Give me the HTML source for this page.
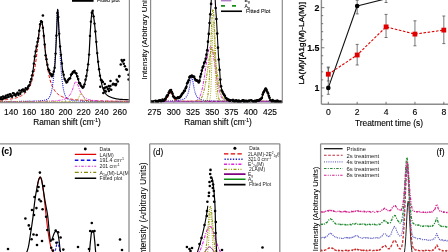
<!DOCTYPE html>
<html><head><meta charset="utf-8"><style>
html,body{margin:0;padding:0;background:#fff;width:448px;height:252px;overflow:hidden}
svg{display:block;font-family:"Liberation Sans",Arial,sans-serif}
</style></head><body>
<svg width="448" height="252" viewBox="0 0 448 252">
<rect width="448" height="252" fill="#fff"/>
<defs>
<clipPath id="ca"><rect x="0" y="0" width="129.4" height="102.5"/></clipPath>
<clipPath id="cb"><rect x="150.6" y="0" width="131.7" height="103"/></clipPath>
<clipPath id="cc"><rect x="0" y="144" width="129" height="108"/></clipPath>
<clipPath id="cd"><rect x="149.7" y="144" width="130.1" height="108"/></clipPath>
<clipPath id="ccl"><rect x="0" y="144" width="128.4" height="108"/></clipPath>
<clipPath id="cdl"><rect x="149.7" y="144" width="129.5" height="108"/></clipPath>
<clipPath id="cf"><rect x="320.6" y="144" width="128" height="108"/></clipPath>
</defs>
<g clip-path="url(#ca)">
<polyline points="0.00,100.16 0.40,100.13 0.80,100.11 1.20,100.08 1.60,100.05 2.00,100.02 2.40,99.98 2.80,99.95 3.20,99.92 3.60,99.88 4.00,99.85 4.40,99.81 4.80,99.77 5.20,99.73 5.60,99.69 6.00,99.65 6.40,99.60 6.80,99.56 7.20,99.51 7.60,99.46 8.00,99.41 8.40,99.36 8.80,99.31 9.20,99.25 9.60,99.19 10.00,99.13 10.40,99.07 10.80,99.01 11.20,98.94 11.60,98.87 12.00,98.80 12.40,98.72 12.80,98.65 13.20,98.56 13.60,98.48 14.00,98.39 14.40,98.30 14.80,98.20 15.20,98.10 15.60,98.00 16.00,97.89 16.40,97.78 16.80,97.66 17.20,97.53 17.60,97.40 18.00,97.27 18.40,97.12 18.80,96.97 19.20,96.81 19.60,96.65 20.00,96.47 20.40,96.29 20.80,96.09 21.20,95.89 21.60,95.67 22.00,95.45 22.40,95.21 22.80,94.95 23.20,94.68 23.60,94.39 24.00,94.09 24.40,93.77 24.80,93.43 25.20,93.06 25.60,92.67 26.00,92.26 26.40,91.81 26.80,91.34 27.20,90.83 27.60,90.29 28.00,89.71 28.40,89.08 28.80,88.40 29.20,87.68 29.60,86.89 30.00,86.05 30.40,85.13 30.80,84.14 31.20,83.07 31.60,81.91 32.00,80.64 32.40,79.27 32.80,77.78 33.20,76.16 33.60,74.39 34.00,72.47 34.40,70.38 34.80,68.11 35.20,65.66 35.60,63.00 36.00,60.15 36.40,57.09 36.80,53.83 37.20,50.40 37.60,46.82 38.00,43.15 38.40,39.44 38.80,35.79 39.20,32.30 39.60,29.09 40.00,26.31 40.40,24.07 40.80,22.51 41.20,21.70 41.60,21.71 42.00,22.61 42.40,24.35 42.80,26.82 43.20,29.87 43.60,33.36 44.00,37.12 44.40,41.01 44.80,44.92 45.20,48.76 45.60,52.46 46.00,55.97 46.40,59.27 46.80,62.35 47.20,65.20 47.60,67.82 48.00,70.24 48.40,72.45 48.80,74.48 49.20,76.33 49.60,78.03 50.00,79.58 50.40,81.00 50.80,82.30 51.20,83.50 51.60,84.59 52.00,85.60 52.40,86.53 52.80,87.38 53.20,88.17 53.60,88.90 54.00,89.57 54.40,90.20 54.80,90.78 55.20,91.32 55.60,91.82 56.00,92.29 56.40,92.72 56.80,93.13 57.20,93.51 57.60,93.87 58.00,94.20 58.40,94.51 58.80,94.81 59.20,95.09 59.60,95.35 60.00,95.59 60.40,95.82 60.80,96.04 61.20,96.25 61.60,96.45 62.00,96.63 62.40,96.81 62.80,96.98 63.20,97.14 63.60,97.29 64.00,97.43 64.40,97.57 64.80,97.70 65.20,97.82 65.60,97.94 66.00,98.05 66.40,98.16 66.80,98.26 67.20,98.36 67.60,98.45 68.00,98.55 68.40,98.63 68.80,98.71 69.20,98.79 69.60,98.87 70.00,98.94 70.40,99.01 70.80,99.08 71.20,99.15 71.60,99.21 72.00,99.27 72.40,99.33 72.80,99.38 73.20,99.44 73.60,99.49 74.00,99.54 74.40,99.59 74.80,99.64 75.20,99.68 75.60,99.72 76.00,99.77 76.40,99.81 76.80,99.85 77.20,99.88 77.60,99.92 78.00,99.96 78.40,99.99 78.80,100.03 79.20,100.06 79.60,100.09 80.00,100.12 80.40,100.15 80.80,100.18 81.20,100.21 81.60,100.23 82.00,100.26 82.40,100.29 82.80,100.31 83.20,100.33 83.60,100.36 84.00,100.38 84.40,100.40 84.80,100.42 85.20,100.45 85.60,100.47 86.00,100.49 86.40,100.51 86.80,100.52 87.20,100.54 87.60,100.56 88.00,100.58 88.40,100.60 88.80,100.61 89.20,100.63 89.60,100.64 90.00,100.66 90.40,100.67 90.80,100.69 91.20,100.70 91.60,100.72 92.00,100.73 92.40,100.75 92.80,100.76 93.20,100.77 93.60,100.78 94.00,100.80 94.40,100.81 94.80,100.82 95.20,100.83 95.60,100.84 96.00,100.85 96.40,100.86 96.80,100.87 97.20,100.88 97.60,100.89 98.00,100.90 98.40,100.91 98.80,100.92 99.20,100.93 99.60,100.94 100.00,100.95 100.40,100.96 100.80,100.97 101.20,100.98 101.60,100.98 102.00,100.99 102.40,101.00 102.80,101.01 103.20,101.02 103.60,101.02 104.00,101.03 104.40,101.04 104.80,101.04 105.20,101.05 105.60,101.06 106.00,101.07 106.40,101.07 106.80,101.08 107.20,101.08 107.60,101.09 108.00,101.10 108.40,101.10 108.80,101.11 109.20,101.11 109.60,101.12 110.00,101.13 110.40,101.13 110.80,101.14 111.20,101.14 111.60,101.15 112.00,101.15 112.40,101.16 112.80,101.16 113.20,101.17 113.60,101.17 114.00,101.18 114.40,101.18 114.80,101.19 115.20,101.19 115.60,101.19 116.00,101.20 116.40,101.20 116.80,101.21 117.20,101.21 117.60,101.21 118.00,101.22 118.40,101.22 118.80,101.23 119.20,101.23 119.60,101.23 120.00,101.24 120.40,101.24 120.80,101.25 121.20,101.25 121.60,101.25 122.00,101.26 122.40,101.26 122.80,101.26 123.20,101.27 123.60,101.27 124.00,101.27 124.40,101.28 124.80,101.28 125.20,101.28 125.60,101.28 126.00,101.29 126.40,101.29 126.80,101.29 127.20,101.30 127.60,101.30 128.00,101.30 128.40,101.30 128.80,101.31 129.20,101.31 129.60,101.31 130.00,101.31" fill="none" stroke="#e00000" stroke-width="1.0" stroke-dasharray="3.2 1.8" stroke-linejoin="round" />
<polyline points="0.00,101.52 0.40,101.52 0.80,101.52 1.20,101.52 1.60,101.52 2.00,101.52 2.40,101.52 2.80,101.51 3.20,101.51 3.60,101.51 4.00,101.51 4.40,101.51 4.80,101.51 5.20,101.51 5.60,101.51 6.00,101.50 6.40,101.50 6.80,101.50 7.20,101.50 7.60,101.50 8.00,101.50 8.40,101.49 8.80,101.49 9.20,101.49 9.60,101.49 10.00,101.49 10.40,101.49 10.80,101.48 11.20,101.48 11.60,101.48 12.00,101.48 12.40,101.47 12.80,101.47 13.20,101.47 13.60,101.47 14.00,101.47 14.40,101.46 14.80,101.46 15.20,101.46 15.60,101.45 16.00,101.45 16.40,101.45 16.80,101.45 17.20,101.44 17.60,101.44 18.00,101.44 18.40,101.43 18.80,101.43 19.20,101.43 19.60,101.42 20.00,101.42 20.40,101.42 20.80,101.41 21.20,101.41 21.60,101.40 22.00,101.40 22.40,101.39 22.80,101.39 23.20,101.38 23.60,101.38 24.00,101.37 24.40,101.37 24.80,101.36 25.20,101.36 25.60,101.35 26.00,101.34 26.40,101.34 26.80,101.33 27.20,101.32 27.60,101.32 28.00,101.31 28.40,101.30 28.80,101.29 29.20,101.28 29.60,101.28 30.00,101.27 30.40,101.26 30.80,101.25 31.20,101.24 31.60,101.22 32.00,101.21 32.40,101.20 32.80,101.19 33.20,101.17 33.60,101.16 34.00,101.14 34.40,101.13 34.80,101.11 35.20,101.10 35.60,101.08 36.00,101.06 36.40,101.04 36.80,101.02 37.20,100.99 37.60,100.97 38.00,100.94 38.40,100.92 38.80,100.89 39.20,100.86 39.60,100.82 40.00,100.79 40.40,100.75 40.80,100.71 41.20,100.67 41.60,100.62 42.00,100.57 42.40,100.52 42.80,100.46 43.20,100.40 43.60,100.33 44.00,100.25 44.40,100.17 44.80,100.08 45.20,99.98 45.60,99.87 46.00,99.74 46.40,99.59 46.80,99.42 47.20,99.22 47.60,98.98 48.00,98.69 48.40,98.35 48.80,97.93 49.20,97.41 49.60,96.78 50.00,96.00 50.40,95.06 50.80,93.91 51.20,92.52 51.60,90.86 52.00,88.89 52.40,86.57 52.80,83.86 53.20,80.71 53.60,77.08 54.00,72.89 54.40,68.08 54.80,62.54 55.20,56.13 55.60,48.72 56.00,40.24 56.40,30.91 56.80,21.52 57.20,13.72 57.60,9.77 58.00,11.14 58.40,17.28 58.80,26.14 59.20,35.66 59.60,44.61 60.00,52.55 60.40,59.45 60.80,65.41 61.20,70.57 61.60,75.06 62.00,78.96 62.40,82.34 62.80,85.27 63.20,87.78 63.60,89.92 64.00,91.73 64.40,93.25 64.80,94.51 65.20,95.55 65.60,96.41 66.00,97.11 66.40,97.68 66.80,98.15 67.20,98.53 67.60,98.84 68.00,99.10 68.40,99.32 68.80,99.51 69.20,99.67 69.60,99.80 70.00,99.92 70.40,100.03 70.80,100.13 71.20,100.21 71.60,100.29 72.00,100.36 72.40,100.43 72.80,100.49 73.20,100.55 73.60,100.60 74.00,100.64 74.40,100.69 74.80,100.73 75.20,100.77 75.60,100.81 76.00,100.84 76.40,100.87 76.80,100.90 77.20,100.93 77.60,100.96 78.00,100.98 78.40,101.00 78.80,101.03 79.20,101.05 79.60,101.07 80.00,101.09 80.40,101.10 80.80,101.12 81.20,101.14 81.60,101.15 82.00,101.17 82.40,101.18 82.80,101.19 83.20,101.21 83.60,101.22 84.00,101.23 84.40,101.24 84.80,101.25 85.20,101.26 85.60,101.27 86.00,101.28 86.40,101.29 86.80,101.30 87.20,101.31 87.60,101.31 88.00,101.32 88.40,101.33 88.80,101.33 89.20,101.34 89.60,101.35 90.00,101.35 90.40,101.36 90.80,101.37 91.20,101.37 91.60,101.38 92.00,101.38 92.40,101.39 92.80,101.39 93.20,101.40 93.60,101.40 94.00,101.41 94.40,101.41 94.80,101.41 95.20,101.42 95.60,101.42 96.00,101.42 96.40,101.43 96.80,101.43 97.20,101.44 97.60,101.44 98.00,101.44 98.40,101.44 98.80,101.45 99.20,101.45 99.60,101.45 100.00,101.46 100.40,101.46 100.80,101.46 101.20,101.46 101.60,101.47 102.00,101.47 102.40,101.47 102.80,101.47 103.20,101.48 103.60,101.48 104.00,101.48 104.40,101.48 104.80,101.48 105.20,101.49 105.60,101.49 106.00,101.49 106.40,101.49 106.80,101.49 107.20,101.50 107.60,101.50 108.00,101.50 108.40,101.50 108.80,101.50 109.20,101.50 109.60,101.50 110.00,101.51 110.40,101.51 110.80,101.51 111.20,101.51 111.60,101.51 112.00,101.51 112.40,101.51 112.80,101.52 113.20,101.52 113.60,101.52 114.00,101.52 114.40,101.52 114.80,101.52 115.20,101.52 115.60,101.52 116.00,101.52 116.40,101.53 116.80,101.53 117.20,101.53 117.60,101.53 118.00,101.53 118.40,101.53 118.80,101.53 119.20,101.53 119.60,101.53 120.00,101.53 120.40,101.53 120.80,101.54 121.20,101.54 121.60,101.54 122.00,101.54 122.40,101.54 122.80,101.54 123.20,101.54 123.60,101.54 124.00,101.54 124.40,101.54 124.80,101.54 125.20,101.54 125.60,101.54 126.00,101.54 126.40,101.55 126.80,101.55 127.20,101.55 127.60,101.55 128.00,101.55 128.40,101.55 128.80,101.55 129.20,101.55 129.60,101.55 130.00,101.55" fill="none" stroke="#1a1ad0" stroke-width="1.1" stroke-dasharray="1 1.1" stroke-linejoin="round" />
<polyline points="0.00,101.54 0.40,101.54 0.80,101.53 1.20,101.53 1.60,101.53 2.00,101.53 2.40,101.53 2.80,101.53 3.20,101.53 3.60,101.53 4.00,101.53 4.40,101.53 4.80,101.53 5.20,101.53 5.60,101.53 6.00,101.52 6.40,101.52 6.80,101.52 7.20,101.52 7.60,101.52 8.00,101.52 8.40,101.52 8.80,101.52 9.20,101.52 9.60,101.52 10.00,101.52 10.40,101.51 10.80,101.51 11.20,101.51 11.60,101.51 12.00,101.51 12.40,101.51 12.80,101.51 13.20,101.51 13.60,101.51 14.00,101.50 14.40,101.50 14.80,101.50 15.20,101.50 15.60,101.50 16.00,101.50 16.40,101.50 16.80,101.50 17.20,101.49 17.60,101.49 18.00,101.49 18.40,101.49 18.80,101.49 19.20,101.49 19.60,101.48 20.00,101.48 20.40,101.48 20.80,101.48 21.20,101.48 21.60,101.48 22.00,101.47 22.40,101.47 22.80,101.47 23.20,101.47 23.60,101.47 24.00,101.46 24.40,101.46 24.80,101.46 25.20,101.46 25.60,101.46 26.00,101.45 26.40,101.45 26.80,101.45 27.20,101.45 27.60,101.44 28.00,101.44 28.40,101.44 28.80,101.44 29.20,101.43 29.60,101.43 30.00,101.43 30.40,101.42 30.80,101.42 31.20,101.42 31.60,101.41 32.00,101.41 32.40,101.41 32.80,101.40 33.20,101.40 33.60,101.40 34.00,101.39 34.40,101.39 34.80,101.38 35.20,101.38 35.60,101.38 36.00,101.37 36.40,101.37 36.80,101.36 37.20,101.36 37.60,101.35 38.00,101.35 38.40,101.34 38.80,101.34 39.20,101.33 39.60,101.32 40.00,101.32 40.40,101.31 40.80,101.31 41.20,101.30 41.60,101.29 42.00,101.29 42.40,101.28 42.80,101.27 43.20,101.26 43.60,101.25 44.00,101.25 44.40,101.24 44.80,101.23 45.20,101.22 45.60,101.21 46.00,101.20 46.40,101.19 46.80,101.18 47.20,101.16 47.60,101.15 48.00,101.14 48.40,101.13 48.80,101.11 49.20,101.10 49.60,101.08 50.00,101.07 50.40,101.05 50.80,101.03 51.20,101.02 51.60,101.00 52.00,100.98 52.40,100.96 52.80,100.94 53.20,100.91 53.60,100.89 54.00,100.86 54.40,100.84 54.80,100.81 55.20,100.78 55.60,100.75 56.00,100.72 56.40,100.68 56.80,100.64 57.20,100.61 57.60,100.56 58.00,100.52 58.40,100.47 58.80,100.42 59.20,100.37 59.60,100.31 60.00,100.25 60.40,100.19 60.80,100.12 61.20,100.04 61.60,99.96 62.00,99.88 62.40,99.78 62.80,99.68 63.20,99.57 63.60,99.45 64.00,99.32 64.40,99.18 64.80,99.03 65.20,98.86 65.60,98.68 66.00,98.48 66.40,98.26 66.80,98.01 67.20,97.75 67.60,97.45 68.00,97.12 68.40,96.75 68.80,96.34 69.20,95.89 69.60,95.38 70.00,94.81 70.40,94.18 70.80,93.48 71.20,92.70 71.60,91.83 72.00,90.88 72.40,89.84 72.80,88.73 73.20,87.56 73.60,86.35 74.00,85.16 74.40,84.03 74.80,83.05 75.20,82.27 75.60,81.77 76.00,81.60 76.40,81.77 76.80,82.27 77.20,83.05 77.60,84.03 78.00,85.16 78.40,86.35 78.80,87.56 79.20,88.73 79.60,89.84 80.00,90.88 80.40,91.83 80.80,92.70 81.20,93.48 81.60,94.18 82.00,94.81 82.40,95.38 82.80,95.89 83.20,96.34 83.60,96.75 84.00,97.12 84.40,97.45 84.80,97.75 85.20,98.01 85.60,98.26 86.00,98.48 86.40,98.68 86.80,98.86 87.20,99.03 87.60,99.18 88.00,99.32 88.40,99.45 88.80,99.57 89.20,99.68 89.60,99.78 90.00,99.88 90.40,99.96 90.80,100.04 91.20,100.12 91.60,100.19 92.00,100.25 92.40,100.31 92.80,100.37 93.20,100.42 93.60,100.47 94.00,100.52 94.40,100.56 94.80,100.61 95.20,100.64 95.60,100.68 96.00,100.72 96.40,100.75 96.80,100.78 97.20,100.81 97.60,100.84 98.00,100.86 98.40,100.89 98.80,100.91 99.20,100.94 99.60,100.96 100.00,100.98 100.40,101.00 100.80,101.02 101.20,101.03 101.60,101.05 102.00,101.07 102.40,101.08 102.80,101.10 103.20,101.11 103.60,101.13 104.00,101.14 104.40,101.15 104.80,101.16 105.20,101.18 105.60,101.19 106.00,101.20 106.40,101.21 106.80,101.22 107.20,101.23 107.60,101.24 108.00,101.25 108.40,101.25 108.80,101.26 109.20,101.27 109.60,101.28 110.00,101.29 110.40,101.29 110.80,101.30 111.20,101.31 111.60,101.31 112.00,101.32 112.40,101.32 112.80,101.33 113.20,101.34 113.60,101.34 114.00,101.35 114.40,101.35 114.80,101.36 115.20,101.36 115.60,101.37 116.00,101.37 116.40,101.38 116.80,101.38 117.20,101.38 117.60,101.39 118.00,101.39 118.40,101.40 118.80,101.40 119.20,101.40 119.60,101.41 120.00,101.41 120.40,101.41 120.80,101.42 121.20,101.42 121.60,101.42 122.00,101.43 122.40,101.43 122.80,101.43 123.20,101.44 123.60,101.44 124.00,101.44 124.40,101.44 124.80,101.45 125.20,101.45 125.60,101.45 126.00,101.45 126.40,101.46 126.80,101.46 127.20,101.46 127.60,101.46 128.00,101.46 128.40,101.47 128.80,101.47 129.20,101.47 129.60,101.47 130.00,101.47" fill="none" stroke="#e020e0" stroke-width="1.0" stroke-dasharray="3 1.2 1 1.2" stroke-linejoin="round" />
<polyline points="0.00,101.60 0.40,101.60 0.80,101.60 1.20,101.60 1.60,101.60 2.00,101.60 2.40,101.60 2.80,101.60 3.20,101.60 3.60,101.60 4.00,101.60 4.40,101.60 4.80,101.60 5.20,101.60 5.60,101.60 6.00,101.60 6.40,101.60 6.80,101.60 7.20,101.60 7.60,101.60 8.00,101.60 8.40,101.60 8.80,101.60 9.20,101.60 9.60,101.60 10.00,101.60 10.40,101.60 10.80,101.60 11.20,101.60 11.60,101.60 12.00,101.60 12.40,101.60 12.80,101.60 13.20,101.60 13.60,101.60 14.00,101.60 14.40,101.60 14.80,101.60 15.20,101.60 15.60,101.60 16.00,101.60 16.40,101.60 16.80,101.60 17.20,101.60 17.60,101.60 18.00,101.60 18.40,101.60 18.80,101.60 19.20,101.60 19.60,101.60 20.00,101.60 20.40,101.60 20.80,101.60 21.20,101.60 21.60,101.60 22.00,101.60 22.40,101.60 22.80,101.60 23.20,101.60 23.60,101.60 24.00,101.60 24.40,101.60 24.80,101.60 25.20,101.60 25.60,101.60 26.00,101.60 26.40,101.60 26.80,101.60 27.20,101.60 27.60,101.60 28.00,101.60 28.40,101.60 28.80,101.60 29.20,101.60 29.60,101.60 30.00,101.60 30.40,101.60 30.80,101.60 31.20,101.60 31.60,101.60 32.00,101.60 32.40,101.60 32.80,101.60 33.20,101.60 33.60,101.60 34.00,101.60 34.40,101.60 34.80,101.60 35.20,101.60 35.60,101.60 36.00,101.60 36.40,101.60 36.80,101.60 37.20,101.60 37.60,101.60 38.00,101.60 38.40,101.60 38.80,101.60 39.20,101.60 39.60,101.60 40.00,101.60 40.40,101.60 40.80,101.60 41.20,101.60 41.60,101.60 42.00,101.60 42.40,101.60 42.80,101.60 43.20,101.60 43.60,101.60 44.00,101.60 44.40,101.60 44.80,101.60 45.20,101.60 45.60,101.60 46.00,101.60 46.40,101.60 46.80,101.60 47.20,101.60 47.60,101.60 48.00,101.60 48.40,101.60 48.80,101.60 49.20,101.60 49.60,101.60 50.00,101.60 50.40,101.60 50.80,101.60 51.20,101.60 51.60,101.60 52.00,101.60 52.40,101.60 52.80,101.60 53.20,101.60 53.60,101.60 54.00,101.60 54.40,101.60 54.80,101.60 55.20,101.60 55.60,101.60 56.00,101.60 56.40,101.60 56.80,101.60 57.20,101.60 57.60,101.60 58.00,101.60 58.40,101.60 58.80,101.60 59.20,101.60 59.60,101.60 60.00,101.60 60.40,101.60 60.80,101.60 61.20,101.60 61.60,101.60 62.00,101.60 62.40,101.60 62.80,101.60 63.20,101.60 63.60,101.60 64.00,101.60 64.40,101.60 64.80,101.60 65.20,101.60 65.60,101.60 66.00,101.60 66.40,101.60 66.80,101.60 67.20,101.60 67.60,101.60 68.00,101.60 68.40,101.60 68.80,101.60 69.20,101.60 69.60,101.60 70.00,101.60 70.40,101.60 70.80,101.60 71.20,101.60 71.60,101.60 72.00,101.60 72.40,101.60 72.80,101.60 73.20,101.59 73.60,101.58 74.00,101.57 74.40,101.54 74.80,101.50 75.20,101.43 75.60,101.32 76.00,101.16 76.40,100.93 76.80,100.61 77.20,100.19 77.60,99.66 78.00,99.00 78.40,98.24 78.80,97.41 79.20,96.53 79.60,95.66 80.00,94.88 80.40,94.24 80.80,93.80 81.20,93.61 81.60,93.67 82.00,93.99 82.40,94.54 82.80,95.26 83.20,96.09 83.60,96.97 84.00,97.83 84.40,98.64 84.80,99.34 85.20,99.94 85.60,100.42 86.00,100.78 86.40,101.06 86.80,101.25 87.20,101.38 87.60,101.47 88.00,101.52 88.40,101.56 88.80,101.58 89.20,101.59 89.60,101.59 90.00,101.60 90.40,101.60 90.80,101.60 91.20,101.60 91.60,101.60 92.00,101.60 92.40,101.60 92.80,101.60 93.20,101.60 93.60,101.60 94.00,101.60 94.40,101.60 94.80,101.60 95.20,101.60 95.60,101.60 96.00,101.60 96.40,101.60 96.80,101.60 97.20,101.60 97.60,101.60 98.00,101.60 98.40,101.60 98.80,101.60 99.20,101.60 99.60,101.60 100.00,101.60 100.40,101.60 100.80,101.60 101.20,101.60 101.60,101.60 102.00,101.60 102.40,101.60 102.80,101.60 103.20,101.60 103.60,101.60 104.00,101.60 104.40,101.60 104.80,101.60 105.20,101.60 105.60,101.60 106.00,101.60 106.40,101.60 106.80,101.60 107.20,101.60 107.60,101.60 108.00,101.60 108.40,101.60 108.80,101.60 109.20,101.60 109.60,101.60 110.00,101.60 110.40,101.60 110.80,101.60 111.20,101.60 111.60,101.60 112.00,101.60 112.40,101.60 112.80,101.60 113.20,101.60 113.60,101.60 114.00,101.60 114.40,101.60 114.80,101.60 115.20,101.60 115.60,101.60 116.00,101.60 116.40,101.60 116.80,101.60 117.20,101.60 117.60,101.60 118.00,101.60 118.40,101.60 118.80,101.60 119.20,101.60 119.60,101.60 120.00,101.60 120.40,101.60 120.80,101.60 121.20,101.60 121.60,101.60 122.00,101.60 122.40,101.60 122.80,101.60 123.20,101.60 123.60,101.60 124.00,101.60 124.40,101.60 124.80,101.60 125.20,101.60 125.60,101.60 126.00,101.60 126.40,101.60 126.80,101.60 127.20,101.60 127.60,101.60 128.00,101.60 128.40,101.60 128.80,101.60 129.20,101.60 129.60,101.60 130.00,101.60" fill="none" stroke="#9a9a10" stroke-width="1.0" stroke-dasharray="2.6 1 1 1 1 1" stroke-linejoin="round" />
<circle cx="0.30" cy="98.19" r="1.2" fill="#000"/>
<circle cx="1.21" cy="97.22" r="1.2" fill="#000"/>
<circle cx="2.11" cy="99.25" r="1.2" fill="#000"/>
<circle cx="3.02" cy="96.45" r="1.2" fill="#000"/>
<circle cx="3.92" cy="98.31" r="1.2" fill="#000"/>
<circle cx="4.83" cy="97.31" r="1.2" fill="#000"/>
<circle cx="5.74" cy="95.68" r="1.2" fill="#000"/>
<circle cx="6.64" cy="97.42" r="1.2" fill="#000"/>
<circle cx="7.55" cy="95.03" r="1.2" fill="#000"/>
<circle cx="8.45" cy="96.50" r="1.2" fill="#000"/>
<circle cx="9.36" cy="94.55" r="1.2" fill="#000"/>
<circle cx="10.27" cy="94.31" r="1.2" fill="#000"/>
<circle cx="11.17" cy="95.44" r="1.2" fill="#000"/>
<circle cx="12.08" cy="96.85" r="1.2" fill="#000"/>
<circle cx="12.98" cy="93.30" r="1.2" fill="#000"/>
<circle cx="13.89" cy="93.35" r="1.2" fill="#000"/>
<circle cx="14.80" cy="94.77" r="1.2" fill="#000"/>
<circle cx="15.70" cy="95.85" r="1.2" fill="#000"/>
<circle cx="16.61" cy="93.85" r="1.2" fill="#000"/>
<circle cx="17.51" cy="92.71" r="1.2" fill="#000"/>
<circle cx="18.42" cy="94.98" r="1.2" fill="#000"/>
<circle cx="19.33" cy="90.48" r="1.2" fill="#000"/>
<circle cx="20.23" cy="93.75" r="1.2" fill="#000"/>
<circle cx="21.14" cy="90.86" r="1.2" fill="#000"/>
<circle cx="22.04" cy="89.88" r="1.2" fill="#000"/>
<circle cx="22.95" cy="89.40" r="1.2" fill="#000"/>
<circle cx="23.86" cy="89.86" r="1.2" fill="#000"/>
<circle cx="24.76" cy="91.65" r="1.2" fill="#000"/>
<circle cx="25.67" cy="88.21" r="1.2" fill="#000"/>
<circle cx="26.57" cy="89.15" r="1.2" fill="#000"/>
<circle cx="27.48" cy="88.29" r="1.2" fill="#000"/>
<circle cx="28.39" cy="86.32" r="1.2" fill="#000"/>
<circle cx="29.29" cy="85.16" r="1.2" fill="#000"/>
<circle cx="30.20" cy="81.96" r="1.2" fill="#000"/>
<circle cx="31.10" cy="79.11" r="1.2" fill="#000"/>
<circle cx="32.01" cy="75.34" r="1.2" fill="#000"/>
<circle cx="32.92" cy="71.42" r="1.2" fill="#000"/>
<circle cx="33.82" cy="63.67" r="1.2" fill="#000"/>
<circle cx="34.73" cy="56.41" r="1.2" fill="#000"/>
<circle cx="35.63" cy="51.56" r="1.2" fill="#000"/>
<circle cx="36.54" cy="46.38" r="1.2" fill="#000"/>
<circle cx="37.45" cy="41.98" r="1.2" fill="#000"/>
<circle cx="38.35" cy="38.27" r="1.2" fill="#000"/>
<circle cx="39.26" cy="30.76" r="1.2" fill="#000"/>
<circle cx="40.16" cy="24.20" r="1.2" fill="#000"/>
<circle cx="41.07" cy="21.18" r="1.2" fill="#000"/>
<circle cx="41.98" cy="21.93" r="1.2" fill="#000"/>
<circle cx="42.88" cy="27.86" r="1.2" fill="#000"/>
<circle cx="43.79" cy="35.77" r="1.2" fill="#000"/>
<circle cx="44.69" cy="44.49" r="1.2" fill="#000"/>
<circle cx="45.60" cy="55.28" r="1.2" fill="#000"/>
<circle cx="46.51" cy="59.32" r="1.2" fill="#000"/>
<circle cx="47.41" cy="64.77" r="1.2" fill="#000"/>
<circle cx="48.32" cy="69.13" r="1.2" fill="#000"/>
<circle cx="49.22" cy="70.49" r="1.2" fill="#000"/>
<circle cx="50.13" cy="73.45" r="1.2" fill="#000"/>
<circle cx="51.04" cy="74.28" r="1.2" fill="#000"/>
<circle cx="51.94" cy="76.29" r="1.2" fill="#000"/>
<circle cx="52.85" cy="74.63" r="1.2" fill="#000"/>
<circle cx="53.75" cy="71.47" r="1.2" fill="#000"/>
<circle cx="54.66" cy="67.77" r="1.2" fill="#000"/>
<circle cx="55.57" cy="53.58" r="1.2" fill="#000"/>
<circle cx="56.47" cy="35.60" r="1.2" fill="#000"/>
<circle cx="57.38" cy="12.89" r="1.2" fill="#000"/>
<circle cx="58.28" cy="17.00" r="1.2" fill="#000"/>
<circle cx="59.19" cy="33.64" r="1.2" fill="#000"/>
<circle cx="60.10" cy="46.54" r="1.2" fill="#000"/>
<circle cx="61.00" cy="54.86" r="1.2" fill="#000"/>
<circle cx="61.91" cy="63.38" r="1.2" fill="#000"/>
<circle cx="62.81" cy="71.66" r="1.2" fill="#000"/>
<circle cx="63.72" cy="74.70" r="1.2" fill="#000"/>
<circle cx="64.63" cy="79.04" r="1.2" fill="#000"/>
<circle cx="65.53" cy="80.67" r="1.2" fill="#000"/>
<circle cx="66.44" cy="82.46" r="1.2" fill="#000"/>
<circle cx="67.34" cy="81.81" r="1.2" fill="#000"/>
<circle cx="68.25" cy="79.68" r="1.2" fill="#000"/>
<circle cx="69.16" cy="78.79" r="1.2" fill="#000"/>
<circle cx="70.06" cy="78.19" r="1.2" fill="#000"/>
<circle cx="70.97" cy="74.71" r="1.2" fill="#000"/>
<circle cx="71.87" cy="73.90" r="1.2" fill="#000"/>
<circle cx="72.78" cy="72.20" r="1.2" fill="#000"/>
<circle cx="73.69" cy="71.48" r="1.2" fill="#000"/>
<circle cx="74.59" cy="70.99" r="1.2" fill="#000"/>
<circle cx="75.50" cy="72.98" r="1.2" fill="#000"/>
<circle cx="76.40" cy="73.36" r="1.2" fill="#000"/>
<circle cx="77.31" cy="76.30" r="1.2" fill="#000"/>
<circle cx="78.22" cy="79.06" r="1.2" fill="#000"/>
<circle cx="79.12" cy="82.88" r="1.2" fill="#000"/>
<circle cx="80.03" cy="83.26" r="1.2" fill="#000"/>
<circle cx="80.93" cy="85.40" r="1.2" fill="#000"/>
<circle cx="81.84" cy="86.59" r="1.2" fill="#000"/>
<circle cx="82.75" cy="87.82" r="1.2" fill="#000"/>
<circle cx="83.65" cy="86.74" r="1.2" fill="#000"/>
<circle cx="84.56" cy="84.36" r="1.2" fill="#000"/>
<circle cx="85.46" cy="79.80" r="1.2" fill="#000"/>
<circle cx="86.37" cy="76.00" r="1.2" fill="#000"/>
<circle cx="87.28" cy="70.11" r="1.2" fill="#000"/>
<circle cx="88.18" cy="64.37" r="1.2" fill="#000"/>
<circle cx="89.09" cy="54.61" r="1.2" fill="#000"/>
<circle cx="89.99" cy="35.91" r="1.2" fill="#000"/>
<circle cx="90.90" cy="21.63" r="1.2" fill="#000"/>
<circle cx="91.81" cy="12.70" r="1.2" fill="#000"/>
<circle cx="92.71" cy="10.67" r="1.2" fill="#000"/>
<circle cx="93.62" cy="16.37" r="1.2" fill="#000"/>
<circle cx="94.52" cy="23.59" r="1.2" fill="#000"/>
<circle cx="95.43" cy="31.51" r="1.2" fill="#000"/>
<circle cx="96.34" cy="41.87" r="1.2" fill="#000"/>
<circle cx="97.24" cy="53.09" r="1.2" fill="#000"/>
<circle cx="98.15" cy="61.67" r="1.2" fill="#000"/>
<circle cx="99.05" cy="69.22" r="1.2" fill="#000"/>
<circle cx="99.96" cy="75.66" r="1.2" fill="#000"/>
<circle cx="100.87" cy="79.81" r="1.2" fill="#000"/>
<circle cx="42.90" cy="15.50" r="1.3" fill="#000"/>
<circle cx="101.82" cy="80.52" r="1.25" fill="#000"/>
<circle cx="102.88" cy="82.04" r="1.25" fill="#000"/>
<circle cx="104.00" cy="88.23" r="1.25" fill="#000"/>
<circle cx="104.87" cy="90.81" r="1.25" fill="#000"/>
<circle cx="105.29" cy="87.56" r="1.25" fill="#000"/>
<circle cx="105.90" cy="91.59" r="1.25" fill="#000"/>
<circle cx="106.76" cy="87.10" r="1.25" fill="#000"/>
<circle cx="107.81" cy="89.01" r="1.25" fill="#000"/>
<circle cx="108.84" cy="86.03" r="1.25" fill="#000"/>
<circle cx="109.40" cy="88.47" r="1.25" fill="#000"/>
<circle cx="110.40" cy="85.90" r="1.25" fill="#000"/>
<circle cx="111.23" cy="89.65" r="1.25" fill="#000"/>
<circle cx="112.71" cy="84.45" r="1.25" fill="#000"/>
<circle cx="113.25" cy="83.83" r="1.25" fill="#000"/>
<circle cx="114.26" cy="84.34" r="1.25" fill="#000"/>
<circle cx="115.65" cy="85.17" r="1.25" fill="#000"/>
<circle cx="116.17" cy="83.93" r="1.25" fill="#000"/>
<circle cx="116.69" cy="79.75" r="1.25" fill="#000"/>
<circle cx="117.84" cy="81.46" r="1.25" fill="#000"/>
<circle cx="119.23" cy="76.51" r="1.25" fill="#000"/>
<circle cx="119.32" cy="75.98" r="1.25" fill="#000"/>
<circle cx="120.73" cy="64.45" r="1.25" fill="#000"/>
<circle cx="121.64" cy="59.92" r="1.25" fill="#000"/>
<circle cx="122.53" cy="61.61" r="1.25" fill="#000"/>
<circle cx="123.76" cy="63.86" r="1.25" fill="#000"/>
<circle cx="124.06" cy="59.91" r="1.25" fill="#000"/>
<circle cx="124.87" cy="66.20" r="1.25" fill="#000"/>
<circle cx="126.13" cy="69.23" r="1.25" fill="#000"/>
<circle cx="126.93" cy="69.78" r="1.25" fill="#000"/>
<circle cx="128.61" cy="79.53" r="1.25" fill="#000"/>
<circle cx="128.55" cy="74.85" r="1.25" fill="#000"/>
<circle cx="103.32" cy="93.06" r="1.25" fill="#000"/>
<circle cx="104.73" cy="84.08" r="1.25" fill="#000"/>
<circle cx="108.86" cy="90.93" r="1.25" fill="#000"/>
<circle cx="110.53" cy="81.03" r="1.25" fill="#000"/>
<circle cx="100.26" cy="86.85" r="1.25" fill="#000"/>
<polyline points="0.00,99.60 0.30,99.54 0.60,99.47 0.90,99.41 1.20,99.34 1.50,99.28 1.80,99.21 2.10,99.14 2.40,99.07 2.70,99.00 3.00,98.93 3.30,98.86 3.60,98.79 3.90,98.71 4.20,98.64 4.50,98.56 4.80,98.48 5.10,98.40 5.40,98.32 5.70,98.23 6.00,98.14 6.30,98.05 6.60,97.96 6.90,97.87 7.20,97.77 7.50,97.67 7.80,97.57 8.10,97.47 8.40,97.37 8.70,97.27 9.00,97.16 9.30,97.05 9.60,96.95 9.90,96.84 10.20,96.73 10.50,96.61 10.80,96.49 11.10,96.37 11.40,96.24 11.70,96.11 12.00,95.98 12.30,95.85 12.60,95.72 12.90,95.59 13.20,95.45 13.50,95.32 13.80,95.19 14.10,95.06 14.40,94.93 14.70,94.80 15.00,94.68 15.30,94.56 15.60,94.44 15.90,94.33 16.20,94.22 16.50,94.11 16.80,94.00 17.10,93.89 17.40,93.78 17.70,93.67 18.00,93.56 18.30,93.45 18.60,93.34 18.90,93.23 19.20,93.11 19.50,93.00 19.80,92.88 20.10,92.76 20.40,92.64 20.70,92.53 21.00,92.41 21.30,92.30 21.60,92.19 21.90,92.08 22.20,91.97 22.50,91.86 22.80,91.74 23.10,91.61 23.40,91.48 23.70,91.35 24.00,91.21 24.30,91.05 24.60,90.89 24.90,90.72 25.20,90.53 25.50,90.33 25.80,90.10 26.10,89.83 26.40,89.53 26.70,89.20 27.00,88.84 27.30,88.46 27.60,88.06 27.90,87.64 28.20,87.21 28.50,86.74 28.80,86.25 29.10,85.71 29.40,85.13 29.70,84.49 30.00,83.80 30.30,83.04 30.60,82.21 30.90,81.23 31.20,80.09 31.50,78.81 31.80,77.40 32.10,75.88 32.40,74.27 32.70,72.58 33.00,70.73 33.30,68.51 33.60,66.04 33.90,63.48 34.20,60.98 34.50,58.69 34.80,56.69 35.10,54.80 35.40,53.00 35.70,51.28 36.00,49.62 36.30,48.02 36.60,46.50 36.90,45.13 37.20,43.83 37.50,42.51 37.80,41.10 38.10,39.50 38.40,37.52 38.70,35.17 39.00,32.68 39.30,30.26 39.60,28.14 39.90,26.49 40.20,24.92 40.50,23.41 40.80,22.13 41.10,21.23 41.40,20.90 41.70,21.27 42.00,22.27 42.30,23.73 42.60,25.48 42.90,27.37 43.20,29.48 43.50,32.36 43.80,35.66 44.10,38.97 44.40,42.08 44.70,45.37 45.00,48.66 45.30,51.75 45.60,54.43 45.90,56.63 46.20,58.64 46.50,60.50 46.80,62.22 47.10,63.79 47.40,65.21 47.70,66.50 48.00,67.67 48.30,68.75 48.60,69.76 48.90,70.70 49.20,71.56 49.50,72.35 49.80,73.06 50.10,73.71 50.40,74.38 50.70,75.04 51.00,75.62 51.30,76.06 51.60,76.28 51.90,76.22 52.20,75.84 52.50,75.21 52.80,74.43 53.10,73.57 53.40,72.71 53.70,71.78 54.00,70.67 54.30,69.30 54.60,67.57 54.90,65.04 55.20,60.82 55.50,55.55 55.80,50.00 56.10,43.94 56.40,37.10 56.70,30.20 57.00,23.00 57.30,14.80 57.60,9.44 57.90,10.19 58.20,15.28 58.50,22.06 58.80,28.00 59.10,32.67 59.40,37.18 59.70,41.36 60.00,45.00 60.30,48.01 60.60,50.64 60.90,53.19 61.20,55.98 61.50,59.17 61.80,62.54 62.10,65.81 62.40,68.69 62.70,70.90 63.00,72.61 63.30,74.16 63.60,75.55 63.90,76.75 64.20,77.77 64.50,78.58 64.80,79.22 65.10,79.83 65.40,80.39 65.70,80.88 66.00,81.26 66.30,81.51 66.60,81.60 66.90,81.56 67.20,81.43 67.50,81.23 67.80,80.97 68.10,80.66 68.40,80.32 68.70,79.95 69.00,79.57 69.30,79.18 69.60,78.80 69.90,78.36 70.20,77.82 70.50,77.20 70.80,76.54 71.10,75.86 71.40,75.21 71.70,74.60 72.00,74.09 72.30,73.69 72.60,73.43 72.90,73.21 73.20,73.00 73.50,72.81 73.80,72.64 74.10,72.50 74.40,72.39 74.70,72.32 75.00,72.30 75.30,72.43 75.60,72.78 75.90,73.33 76.20,74.02 76.50,74.82 76.80,75.68 77.10,76.58 77.40,77.46 77.70,78.29 78.00,79.05 78.30,79.85 78.60,80.73 78.90,81.63 79.20,82.52 79.50,83.35 79.80,84.09 80.10,84.69 80.40,85.13 80.70,85.52 81.00,85.90 81.30,86.25 81.60,86.56 81.90,86.82 82.20,87.02 82.50,87.15 82.80,87.20 83.10,87.07 83.40,86.72 83.70,86.17 84.00,85.45 84.30,84.60 84.60,83.65 84.90,82.63 85.20,81.57 85.50,80.50 85.80,79.32 86.10,77.93 86.40,76.34 86.70,74.57 87.00,72.64 87.30,70.58 87.60,68.40 87.90,66.12 88.20,63.59 88.50,60.71 88.80,57.43 89.10,53.64 89.40,48.67 89.70,42.87 90.00,36.94 90.30,31.55 90.60,27.03 90.90,22.70 91.20,18.89 91.50,16.00 91.80,13.69 92.10,11.79 92.40,11.00 92.70,11.57 93.00,12.99 93.30,14.80 93.60,16.59 93.90,18.61 94.20,20.91 94.50,23.46 94.80,26.19 95.10,29.03 95.40,32.05 95.70,35.47 96.00,39.15 96.30,42.92 96.60,46.59 96.90,50.00 97.20,53.16 97.50,56.18 97.80,59.07 98.10,61.85 98.40,64.52 98.70,66.90 99.00,69.00 99.30,70.95 99.60,72.80 99.90,74.53 100.20,76.19 100.50,77.77 100.80,79.31 101.10,80.84 101.40,82.35 101.70,83.80 102.00,85.15 102.30,86.36 102.60,87.40 102.90,88.27 103.20,89.08 103.50,89.85 103.80,90.57 104.10,91.23 104.40,91.84 104.70,92.40 105.00,92.89 105.30,93.33 105.60,93.70 105.90,94.03 106.20,94.34 106.50,94.62 106.80,94.89 107.10,95.15 107.40,95.38 107.70,95.60 108.00,95.81 108.30,96.00 108.60,96.18 108.90,96.35 109.20,96.50 109.50,96.65 109.80,96.79 110.10,96.93 110.40,97.06 110.70,97.18 111.00,97.30 111.30,97.42 111.60,97.53 111.90,97.64 112.20,97.74 112.50,97.84 112.80,97.93 113.10,98.02 113.40,98.11 113.70,98.19 114.00,98.27 114.30,98.34 114.60,98.41 114.90,98.48 115.20,98.54 115.50,98.61 115.80,98.67 116.10,98.73 116.40,98.79 116.70,98.85 117.00,98.90 117.30,98.96 117.60,99.01 117.90,99.05 118.20,99.10 118.50,99.14 118.80,99.18 119.10,99.22 119.40,99.25 119.70,99.28 120.00,99.30 120.30,99.32 120.60,99.34 120.90,99.36 121.20,99.38 121.50,99.40 121.80,99.42 122.10,99.44 122.40,99.46 122.70,99.48 123.00,99.50 123.30,99.52 123.60,99.53 123.90,99.55 124.20,99.57 124.50,99.58 124.80,99.60 125.10,99.62 125.40,99.63 125.70,99.64 126.00,99.66 126.30,99.67 126.60,99.68 126.90,99.70 127.20,99.71 127.50,99.72 127.80,99.73 128.10,99.74 128.40,99.75 128.70,99.75 129.00,99.76 129.30,99.77 129.60,99.78 129.90,99.78" fill="none" stroke="#000" stroke-width="1.2" stroke-linejoin="round" />
</g>
<line x1="129.40" y1="0.00" x2="129.40" y2="102.60" stroke="#8c8c8c" stroke-width="1.2"/>
<line x1="0.00" y1="102.60" x2="129.40" y2="102.60" stroke="#8c8c8c" stroke-width="1.2"/>
<line x1="11.10" y1="102.20" x2="11.10" y2="100.20" stroke="#8c8c8c" stroke-width="0.8"/>
<text x="11.1" y="114.6" font-size="8.4" text-anchor="middle" font-weight="normal" fill="#000" stroke="#000" stroke-width="0.12">140</text>
<line x1="29.22" y1="102.20" x2="29.22" y2="100.20" stroke="#8c8c8c" stroke-width="0.8"/>
<text x="29.22" y="114.6" font-size="8.4" text-anchor="middle" font-weight="normal" fill="#000" stroke="#000" stroke-width="0.12">160</text>
<line x1="47.34" y1="102.20" x2="47.34" y2="100.20" stroke="#8c8c8c" stroke-width="0.8"/>
<text x="47.34" y="114.6" font-size="8.4" text-anchor="middle" font-weight="normal" fill="#000" stroke="#000" stroke-width="0.12">180</text>
<line x1="65.46" y1="102.20" x2="65.46" y2="100.20" stroke="#8c8c8c" stroke-width="0.8"/>
<text x="65.46" y="114.6" font-size="8.4" text-anchor="middle" font-weight="normal" fill="#000" stroke="#000" stroke-width="0.12">200</text>
<line x1="83.58" y1="102.20" x2="83.58" y2="100.20" stroke="#8c8c8c" stroke-width="0.8"/>
<text x="83.58" y="114.6" font-size="8.4" text-anchor="middle" font-weight="normal" fill="#000" stroke="#000" stroke-width="0.12">220</text>
<line x1="101.70" y1="102.20" x2="101.70" y2="100.20" stroke="#8c8c8c" stroke-width="0.8"/>
<text x="101.7" y="114.6" font-size="8.4" text-anchor="middle" font-weight="normal" fill="#000" stroke="#000" stroke-width="0.12">240</text>
<line x1="119.82" y1="102.20" x2="119.82" y2="100.20" stroke="#8c8c8c" stroke-width="0.8"/>
<text x="119.82" y="114.6" font-size="8.4" text-anchor="middle" font-weight="normal" fill="#000" stroke="#000" stroke-width="0.12">260</text>
<text x="67" y="125" font-size="8.3" text-anchor="middle" font-weight="normal" fill="#000" stroke="#000" stroke-width="0.12">Raman shift (cm<tspan font-size="5" dy="-3">-1</tspan><tspan dy="3">)</tspan></text>
<line x1="72.00" y1="0.60" x2="93.60" y2="0.60" stroke="#000" stroke-width="2.4"/>
<text x="97" y="2.2" font-size="5.2" text-anchor="start" font-weight="normal" fill="#000" stroke="#000" stroke-width="0.04">Fitted plot</text>
<g clip-path="url(#cb)">
<polyline points="151.00,101.30 151.40,101.30 151.80,101.30 152.20,101.30 152.60,101.30 153.00,101.30 153.40,101.30 153.80,101.30 154.20,101.30 154.60,101.30 155.00,101.30 155.40,101.30 155.80,101.30 156.20,101.30 156.60,101.30 157.00,101.30 157.40,101.30 157.80,101.30 158.20,101.30 158.60,101.30 159.00,101.30 159.40,101.30 159.80,101.30 160.20,101.30 160.60,101.30 161.00,101.29 161.40,101.29 161.80,101.28 162.20,101.27 162.60,101.25 163.00,101.22 163.40,101.16 163.80,101.09 164.20,100.98 164.60,100.82 165.00,100.60 165.40,100.31 165.80,99.94 166.20,99.47 166.60,98.91 167.00,98.25 167.40,97.51 167.80,96.71 168.20,95.88 168.60,95.06 169.00,94.29 169.40,93.64 169.80,93.13 170.20,92.81 170.60,92.70 171.00,92.81 171.40,93.13 171.80,93.64 172.20,94.29 172.60,95.06 173.00,95.88 173.40,96.71 173.80,97.51 174.20,98.25 174.60,98.91 175.00,99.47 175.40,99.94 175.80,100.31 176.20,100.60 176.60,100.82 177.00,100.98 177.40,101.09 177.80,101.16 178.20,101.22 178.60,101.25 179.00,101.27 179.40,101.28 179.80,101.29 180.20,101.29 180.60,101.30 181.00,101.30 181.40,101.30 181.80,101.30 182.20,101.30 182.60,101.30 183.00,101.30 183.40,101.30 183.80,101.30 184.20,101.30 184.60,101.30 185.00,101.30 185.40,101.30 185.80,101.30 186.20,101.30 186.60,101.30 187.00,101.30 187.40,101.30 187.80,101.30 188.20,101.30 188.60,101.30 189.00,101.30 189.40,101.30 189.80,101.30 190.20,101.30 190.60,101.30 191.00,101.30 191.40,101.30 191.80,101.30 192.20,101.30 192.60,101.30 193.00,101.30 193.40,101.30 193.80,101.30 194.20,101.30 194.60,101.30 195.00,101.30 195.40,101.30 195.80,101.30 196.20,101.30 196.60,101.30 197.00,101.30 197.40,101.30 197.80,101.30 198.20,101.30 198.60,101.30 199.00,101.30 199.40,101.30 199.80,101.30 200.20,101.30 200.60,101.30 201.00,101.30 201.40,101.30 201.80,101.30 202.20,101.30 202.60,101.30 203.00,101.30 203.40,101.30 203.80,101.30 204.20,101.30 204.60,101.30 205.00,101.30 205.40,101.30 205.80,101.30 206.20,101.30 206.60,101.30 207.00,101.30 207.40,101.30 207.80,101.30 208.20,101.30 208.60,101.30 209.00,101.30 209.40,101.30 209.80,101.30 210.20,101.30 210.60,101.30 211.00,101.30 211.40,101.30 211.80,101.30 212.20,101.30 212.60,101.30 213.00,101.30 213.40,101.30 213.80,101.30 214.20,101.30 214.60,101.30 215.00,101.30 215.40,101.30 215.80,101.30 216.20,101.30 216.60,101.30 217.00,101.30 217.40,101.30 217.80,101.30 218.20,101.30 218.60,101.30 219.00,101.30 219.40,101.30 219.80,101.30 220.20,101.30 220.60,101.30 221.00,101.30 221.40,101.30 221.80,101.30 222.20,101.30 222.60,101.30 223.00,101.30 223.40,101.30 223.80,101.30 224.20,101.30 224.60,101.30 225.00,101.30 225.40,101.30 225.80,101.30 226.20,101.30 226.60,101.30 227.00,101.30 227.40,101.30 227.80,101.30 228.20,101.30 228.60,101.30 229.00,101.30 229.40,101.30 229.80,101.30 230.20,101.30 230.60,101.30 231.00,101.30 231.40,101.30 231.80,101.30 232.20,101.30 232.60,101.30 233.00,101.30 233.40,101.30 233.80,101.30 234.20,101.30 234.60,101.30 235.00,101.30 235.40,101.30 235.80,101.30 236.20,101.30 236.60,101.30 237.00,101.30 237.40,101.30 237.80,101.30 238.20,101.30 238.60,101.30 239.00,101.30 239.40,101.30 239.80,101.30 240.20,101.30 240.60,101.30 241.00,101.30 241.40,101.30 241.80,101.30 242.20,101.30 242.60,101.30 243.00,101.30 243.40,101.30 243.80,101.30 244.20,101.30 244.60,101.30 245.00,101.30 245.40,101.30 245.80,101.30 246.20,101.30 246.60,101.30 247.00,101.30 247.40,101.30 247.80,101.30 248.20,101.30 248.60,101.30 249.00,101.30 249.40,101.30 249.80,101.30 250.20,101.30 250.60,101.30 251.00,101.30 251.40,101.30 251.80,101.30 252.20,101.30 252.60,101.30 253.00,101.30 253.40,101.30 253.80,101.30 254.20,101.30 254.60,101.30 255.00,101.30 255.40,101.30 255.80,101.30 256.20,101.30 256.60,101.30 257.00,101.30 257.40,101.30 257.80,101.30 258.20,101.30 258.60,101.30 259.00,101.30 259.40,101.30 259.80,101.30 260.20,101.30 260.60,101.30 261.00,101.30 261.40,101.30 261.80,101.30 262.20,101.30 262.60,101.30 263.00,101.30 263.40,101.30 263.80,101.30 264.20,101.30 264.60,101.30 265.00,101.30 265.40,101.30 265.80,101.30 266.20,101.30 266.60,101.30 267.00,101.30 267.40,101.30 267.80,101.30 268.20,101.30 268.60,101.30 269.00,101.30 269.40,101.30 269.80,101.30 270.20,101.30 270.60,101.30 271.00,101.30 271.40,101.30 271.80,101.30 272.20,101.30 272.60,101.30 273.00,101.30 273.40,101.30 273.80,101.30 274.20,101.30 274.60,101.30 275.00,101.30 275.40,101.30 275.80,101.30 276.20,101.30 276.60,101.30 277.00,101.30 277.40,101.30 277.80,101.30 278.20,101.30 278.60,101.30 279.00,101.30 279.40,101.30 279.80,101.30 280.20,101.30 280.60,101.30 281.00,101.30 281.40,101.30 281.80,101.30" fill="none" stroke="#e00000" stroke-width="1.3" stroke-dasharray="3 1.4" stroke-linejoin="round" />
<polyline points="151.00,101.20 151.40,101.20 151.80,101.20 152.20,101.20 152.60,101.19 153.00,101.19 153.40,101.19 153.80,101.19 154.20,101.19 154.60,101.18 155.00,101.18 155.40,101.18 155.80,101.17 156.20,101.17 156.60,101.17 157.00,101.17 157.40,101.16 157.80,101.16 158.20,101.16 158.60,101.15 159.00,101.15 159.40,101.15 159.80,101.14 160.20,101.14 160.60,101.13 161.00,101.13 161.40,101.12 161.80,101.12 162.20,101.12 162.60,101.11 163.00,101.10 163.40,101.10 163.80,101.09 164.20,101.09 164.60,101.08 165.00,101.07 165.40,101.07 165.80,101.06 166.20,101.05 166.60,101.05 167.00,101.04 167.40,101.03 167.80,101.02 168.20,101.01 168.60,101.00 169.00,100.99 169.40,100.98 169.80,100.97 170.20,100.95 170.60,100.94 171.00,100.93 171.40,100.91 171.80,100.90 172.20,100.88 172.60,100.86 173.00,100.84 173.40,100.83 173.80,100.80 174.20,100.78 174.60,100.76 175.00,100.73 175.40,100.70 175.80,100.67 176.20,100.64 176.60,100.61 177.00,100.57 177.40,100.53 177.80,100.49 178.20,100.44 178.60,100.39 179.00,100.33 179.40,100.27 179.80,100.21 180.20,100.13 180.60,100.05 181.00,99.96 181.40,99.86 181.80,99.75 182.20,99.63 182.60,99.49 183.00,99.33 183.40,99.16 183.80,98.95 184.20,98.73 184.60,98.46 185.00,98.16 185.40,97.81 185.80,97.40 186.20,96.92 186.60,96.35 187.00,95.68 187.40,94.87 187.80,93.92 188.20,92.77 188.60,91.39 189.00,89.75 189.40,87.84 189.80,85.65 190.20,83.29 190.60,80.94 191.00,78.92 191.40,77.62 191.80,77.34 192.20,78.16 192.60,79.87 193.00,82.10 193.40,84.49 193.80,86.78 194.20,88.83 194.60,90.61 195.00,92.11 195.40,93.37 195.80,94.42 196.20,95.29 196.60,96.03 197.00,96.64 197.40,97.17 197.80,97.61 198.20,97.99 198.60,98.32 199.00,98.60 199.40,98.84 199.80,99.06 200.20,99.25 200.60,99.41 201.00,99.56 201.40,99.69 201.80,99.81 202.20,99.91 202.60,100.01 203.00,100.09 203.40,100.17 203.80,100.24 204.20,100.30 204.60,100.36 205.00,100.42 205.40,100.47 205.80,100.51 206.20,100.55 206.60,100.59 207.00,100.63 207.40,100.66 207.80,100.69 208.20,100.72 208.60,100.75 209.00,100.77 209.40,100.79 209.80,100.81 210.20,100.84 210.60,100.85 211.00,100.87 211.40,100.89 211.80,100.91 212.20,100.92 212.60,100.93 213.00,100.95 213.40,100.96 213.80,100.97 214.20,100.98 214.60,100.99 215.00,101.00 215.40,101.01 215.80,101.02 216.20,101.03 216.60,101.04 217.00,101.05 217.40,101.06 217.80,101.06 218.20,101.07 218.60,101.08 219.00,101.08 219.40,101.09 219.80,101.10 220.20,101.10 220.60,101.11 221.00,101.11 221.40,101.12 221.80,101.12 222.20,101.13 222.60,101.13 223.00,101.14 223.40,101.14 223.80,101.14 224.20,101.15 224.60,101.15 225.00,101.15 225.40,101.16 225.80,101.16 226.20,101.16 226.60,101.17 227.00,101.17 227.40,101.17 227.80,101.18 228.20,101.18 228.60,101.18 229.00,101.18 229.40,101.19 229.80,101.19 230.20,101.19 230.60,101.19 231.00,101.20 231.40,101.20 231.80,101.20 232.20,101.20 232.60,101.20 233.00,101.21 233.40,101.21 233.80,101.21 234.20,101.21 234.60,101.21 235.00,101.21 235.40,101.22 235.80,101.22 236.20,101.22 236.60,101.22 237.00,101.22 237.40,101.22 237.80,101.22 238.20,101.23 238.60,101.23 239.00,101.23 239.40,101.23 239.80,101.23 240.20,101.23 240.60,101.23 241.00,101.23 241.40,101.23 241.80,101.24 242.20,101.24 242.60,101.24 243.00,101.24 243.40,101.24 243.80,101.24 244.20,101.24 244.60,101.24 245.00,101.24 245.40,101.24 245.80,101.24 246.20,101.25 246.60,101.25 247.00,101.25 247.40,101.25 247.80,101.25 248.20,101.25 248.60,101.25 249.00,101.25 249.40,101.25 249.80,101.25 250.20,101.25 250.60,101.25 251.00,101.25 251.40,101.25 251.80,101.26 252.20,101.26 252.60,101.26 253.00,101.26 253.40,101.26 253.80,101.26 254.20,101.26 254.60,101.26 255.00,101.26 255.40,101.26 255.80,101.26 256.20,101.26 256.60,101.26 257.00,101.26 257.40,101.26 257.80,101.26 258.20,101.26 258.60,101.26 259.00,101.26 259.40,101.26 259.80,101.27 260.20,101.27 260.60,101.27 261.00,101.27 261.40,101.27 261.80,101.27 262.20,101.27 262.60,101.27 263.00,101.27 263.40,101.27 263.80,101.27 264.20,101.27 264.60,101.27 265.00,101.27 265.40,101.27 265.80,101.27 266.20,101.27 266.60,101.27 267.00,101.27 267.40,101.27 267.80,101.27 268.20,101.27 268.60,101.27 269.00,101.27 269.40,101.27 269.80,101.27 270.20,101.27 270.60,101.27 271.00,101.27 271.40,101.27 271.80,101.27 272.20,101.27 272.60,101.28 273.00,101.28 273.40,101.28 273.80,101.28 274.20,101.28 274.60,101.28 275.00,101.28 275.40,101.28 275.80,101.28 276.20,101.28 276.60,101.28 277.00,101.28 277.40,101.28 277.80,101.28 278.20,101.28 278.60,101.28 279.00,101.28 279.40,101.28 279.80,101.28 280.20,101.28 280.60,101.28 281.00,101.28 281.40,101.28 281.80,101.28" fill="none" stroke="#1a1ad0" stroke-width="1.1" stroke-dasharray="1 1.1" stroke-linejoin="round" />
<polyline points="151.00,101.30 151.40,101.30 151.80,101.30 152.20,101.30 152.60,101.30 153.00,101.30 153.40,101.30 153.80,101.30 154.20,101.30 154.60,101.30 155.00,101.30 155.40,101.30 155.80,101.30 156.20,101.30 156.60,101.30 157.00,101.30 157.40,101.30 157.80,101.30 158.20,101.30 158.60,101.30 159.00,101.30 159.40,101.30 159.80,101.30 160.20,101.30 160.60,101.30 161.00,101.30 161.40,101.30 161.80,101.30 162.20,101.30 162.60,101.30 163.00,101.30 163.40,101.30 163.80,101.30 164.20,101.30 164.60,101.30 165.00,101.30 165.40,101.30 165.80,101.30 166.20,101.30 166.60,101.30 167.00,101.30 167.40,101.30 167.80,101.30 168.20,101.30 168.60,101.30 169.00,101.30 169.40,101.30 169.80,101.30 170.20,101.30 170.60,101.30 171.00,101.30 171.40,101.30 171.80,101.30 172.20,101.30 172.60,101.30 173.00,101.30 173.40,101.30 173.80,101.30 174.20,101.30 174.60,101.30 175.00,101.30 175.40,101.30 175.80,101.30 176.20,101.30 176.60,101.30 177.00,101.30 177.40,101.30 177.80,101.30 178.20,101.30 178.60,101.30 179.00,101.30 179.40,101.30 179.80,101.30 180.20,101.30 180.60,101.30 181.00,101.30 181.40,101.30 181.80,101.30 182.20,101.30 182.60,101.30 183.00,101.30 183.40,101.30 183.80,101.30 184.20,101.30 184.60,101.30 185.00,101.30 185.40,101.30 185.80,101.30 186.20,101.30 186.60,101.30 187.00,101.30 187.40,101.30 187.80,101.30 188.20,101.30 188.60,101.30 189.00,101.30 189.40,101.30 189.80,101.29 190.20,101.29 190.60,101.29 191.00,101.29 191.40,101.28 191.80,101.27 192.20,101.26 192.60,101.25 193.00,101.23 193.40,101.20 193.80,101.17 194.20,101.13 194.60,101.07 195.00,101.00 195.40,100.91 195.80,100.79 196.20,100.65 196.60,100.47 197.00,100.25 197.40,99.97 197.80,99.64 198.20,99.24 198.60,98.75 199.00,98.18 199.40,97.51 199.80,96.72 200.20,95.80 200.60,94.74 201.00,93.54 201.40,92.18 201.80,90.66 202.20,88.97 202.60,87.10 203.00,85.07 203.40,82.88 203.80,80.54 204.20,78.06 204.60,75.46 205.00,72.77 205.40,70.02 205.80,67.25 206.20,64.48 206.60,61.76 207.00,59.14 207.40,56.65 207.80,54.35 208.20,52.27 208.60,50.44 209.00,48.92 209.40,47.73 209.80,46.88 210.20,46.41 210.60,46.31 211.00,46.60 211.40,47.26 211.80,48.28 212.20,49.64 212.60,51.32 213.00,53.28 213.40,55.48 213.80,57.88 214.20,60.44 214.60,63.11 215.00,65.86 215.40,68.64 215.80,71.40 216.20,74.13 216.60,76.77 217.00,79.31 217.40,81.73 217.80,84.00 218.20,86.11 218.60,88.06 219.00,89.83 219.40,91.44 219.80,92.88 220.20,94.16 220.60,95.29 221.00,96.27 221.40,97.13 221.80,97.86 222.20,98.48 222.60,99.01 223.00,99.45 223.40,99.81 223.80,100.12 224.20,100.36 224.60,100.56 225.00,100.73 225.40,100.86 225.80,100.96 226.20,101.04 226.60,101.10 227.00,101.15 227.40,101.19 227.80,101.22 228.20,101.24 228.60,101.26 229.00,101.27 229.40,101.28 229.80,101.28 230.20,101.29 230.60,101.29 231.00,101.29 231.40,101.30 231.80,101.30 232.20,101.30 232.60,101.30 233.00,101.30 233.40,101.30 233.80,101.30 234.20,101.30 234.60,101.30 235.00,101.30 235.40,101.30 235.80,101.30 236.20,101.30 236.60,101.30 237.00,101.30 237.40,101.30 237.80,101.30 238.20,101.30 238.60,101.30 239.00,101.30 239.40,101.30 239.80,101.30 240.20,101.30 240.60,101.30 241.00,101.30 241.40,101.30 241.80,101.30 242.20,101.30 242.60,101.30 243.00,101.30 243.40,101.30 243.80,101.30 244.20,101.30 244.60,101.30 245.00,101.30 245.40,101.30 245.80,101.30 246.20,101.30 246.60,101.30 247.00,101.30 247.40,101.30 247.80,101.30 248.20,101.30 248.60,101.30 249.00,101.30 249.40,101.30 249.80,101.30 250.20,101.30 250.60,101.30 251.00,101.30 251.40,101.30 251.80,101.30 252.20,101.30 252.60,101.30 253.00,101.30 253.40,101.30 253.80,101.30 254.20,101.30 254.60,101.30 255.00,101.30 255.40,101.30 255.80,101.30 256.20,101.30 256.60,101.30 257.00,101.30 257.40,101.30 257.80,101.30 258.20,101.30 258.60,101.30 259.00,101.30 259.40,101.30 259.80,101.30 260.20,101.30 260.60,101.30 261.00,101.30 261.40,101.30 261.80,101.30 262.20,101.30 262.60,101.30 263.00,101.30 263.40,101.30 263.80,101.30 264.20,101.30 264.60,101.30 265.00,101.30 265.40,101.30 265.80,101.30 266.20,101.30 266.60,101.30 267.00,101.30 267.40,101.30 267.80,101.30 268.20,101.30 268.60,101.30 269.00,101.30 269.40,101.30 269.80,101.30 270.20,101.30 270.60,101.30 271.00,101.30 271.40,101.30 271.80,101.30 272.20,101.30 272.60,101.30 273.00,101.30 273.40,101.30 273.80,101.30 274.20,101.30 274.60,101.30 275.00,101.30 275.40,101.30 275.80,101.30 276.20,101.30 276.60,101.30 277.00,101.30 277.40,101.30 277.80,101.30 278.20,101.30 278.60,101.30 279.00,101.30 279.40,101.30 279.80,101.30 280.20,101.30 280.60,101.30 281.00,101.30 281.40,101.30 281.80,101.30" fill="none" stroke="#e020e0" stroke-width="1.0" stroke-dasharray="3 1.2 1 1.2" stroke-linejoin="round" />
<polyline points="151.00,101.30 151.20,101.30 151.40,101.30 151.60,101.30 151.80,101.30 152.00,101.30 152.20,101.30 152.40,101.30 152.60,101.30 152.80,101.30 153.00,101.30 153.20,101.30 153.40,101.30 153.60,101.30 153.80,101.30 154.00,101.30 154.20,101.30 154.40,101.30 154.60,101.30 154.80,101.30 155.00,101.30 155.20,101.30 155.40,101.30 155.60,101.30 155.80,101.30 156.00,101.30 156.20,101.30 156.40,101.30 156.60,101.30 156.80,101.30 157.00,101.30 157.20,101.30 157.40,101.30 157.60,101.30 157.80,101.30 158.00,101.30 158.20,101.30 158.40,101.30 158.60,101.30 158.80,101.30 159.00,101.30 159.20,101.30 159.40,101.30 159.60,101.30 159.80,101.30 160.00,101.30 160.20,101.30 160.40,101.30 160.60,101.30 160.80,101.30 161.00,101.30 161.20,101.30 161.40,101.30 161.60,101.30 161.80,101.30 162.00,101.30 162.20,101.30 162.40,101.30 162.60,101.30 162.80,101.30 163.00,101.30 163.20,101.30 163.40,101.30 163.60,101.30 163.80,101.30 164.00,101.30 164.20,101.30 164.40,101.30 164.60,101.30 164.80,101.30 165.00,101.30 165.20,101.30 165.40,101.30 165.60,101.30 165.80,101.30 166.00,101.30 166.20,101.30 166.40,101.30 166.60,101.30 166.80,101.30 167.00,101.30 167.20,101.30 167.40,101.30 167.60,101.30 167.80,101.30 168.00,101.30 168.20,101.30 168.40,101.30 168.60,101.30 168.80,101.30 169.00,101.30 169.20,101.30 169.40,101.30 169.60,101.30 169.80,101.30 170.00,101.30 170.20,101.30 170.40,101.30 170.60,101.30 170.80,101.30 171.00,101.30 171.20,101.30 171.40,101.30 171.60,101.30 171.80,101.30 172.00,101.30 172.20,101.30 172.40,101.30 172.60,101.30 172.80,101.30 173.00,101.30 173.20,101.30 173.40,101.30 173.60,101.30 173.80,101.30 174.00,101.30 174.20,101.30 174.40,101.30 174.60,101.30 174.80,101.30 175.00,101.30 175.20,101.30 175.40,101.30 175.60,101.30 175.80,101.30 176.00,101.30 176.20,101.30 176.40,101.30 176.60,101.30 176.80,101.30 177.00,101.30 177.20,101.30 177.40,101.30 177.60,101.30 177.80,101.30 178.00,101.30 178.20,101.30 178.40,101.30 178.60,101.30 178.80,101.30 179.00,101.30 179.20,101.30 179.40,101.30 179.60,101.30 179.80,101.30 180.00,101.30 180.20,101.30 180.40,101.30 180.60,101.30 180.80,101.30 181.00,101.30 181.20,101.30 181.40,101.30 181.60,101.30 181.80,101.30 182.00,101.30 182.20,101.30 182.40,101.30 182.60,101.30 182.80,101.30 183.00,101.30 183.20,101.30 183.40,101.30 183.60,101.30 183.80,101.30 184.00,101.30 184.20,101.30 184.40,101.30 184.60,101.30 184.80,101.30 185.00,101.30 185.20,101.30 185.40,101.30 185.60,101.30 185.80,101.30 186.00,101.30 186.20,101.30 186.40,101.30 186.60,101.30 186.80,101.30 187.00,101.30 187.20,101.30 187.40,101.30 187.60,101.30 187.80,101.30 188.00,101.30 188.20,101.30 188.40,101.30 188.60,101.30 188.80,101.30 189.00,101.30 189.20,101.30 189.40,101.30 189.60,101.30 189.80,101.30 190.00,101.30 190.20,101.30 190.40,101.30 190.60,101.30 190.80,101.30 191.00,101.30 191.20,101.30 191.40,101.30 191.60,101.30 191.80,101.30 192.00,101.30 192.20,101.30 192.40,101.30 192.60,101.30 192.80,101.30 193.00,101.30 193.20,101.30 193.40,101.30 193.60,101.30 193.80,101.30 194.00,101.30 194.20,101.30 194.40,101.30 194.60,101.30 194.80,101.30 195.00,101.30 195.20,101.30 195.40,101.30 195.60,101.30 195.80,101.30 196.00,101.30 196.20,101.30 196.40,101.30 196.60,101.30 196.80,101.30 197.00,101.30 197.20,101.30 197.40,101.30 197.60,101.30 197.80,101.30 198.00,101.30 198.20,101.30 198.40,101.30 198.60,101.30 198.80,101.30 199.00,101.30 199.20,101.30 199.40,101.30 199.60,101.30 199.80,101.30 200.00,101.30 200.20,101.30 200.40,101.30 200.60,101.30 200.80,101.30 201.00,101.30 201.20,101.30 201.40,101.30 201.60,101.30 201.80,101.30 202.00,101.30 202.20,101.30 202.40,101.30 202.60,101.30 202.80,101.30 203.00,101.30 203.20,101.30 203.40,101.29 203.60,101.29 203.80,101.29 204.00,101.28 204.20,101.27 204.40,101.26 204.60,101.24 204.80,101.21 205.00,101.18 205.20,101.13 205.40,101.06 205.60,100.98 205.80,100.87 206.00,100.72 206.20,100.53 206.40,100.28 206.60,99.96 206.80,99.57 207.00,99.07 207.20,98.45 207.40,97.70 207.60,96.78 207.80,95.67 208.00,94.35 208.20,92.79 208.40,90.96 208.60,88.85 208.80,86.43 209.00,83.68 209.20,80.60 209.40,77.18 209.60,73.43 209.80,69.36 210.00,64.99 210.20,60.37 210.40,55.54 210.60,50.56 210.80,45.50 211.00,40.44 211.20,35.47 211.40,30.68 211.60,26.16 211.80,22.02 212.00,18.33 212.20,15.19 212.40,12.66 212.60,10.81 212.80,9.68 213.00,9.30 213.20,9.68 213.40,10.81 213.60,12.66 213.80,15.19 214.00,18.33 214.20,22.02 214.40,26.16 214.60,30.68 214.80,35.47 215.00,40.44 215.20,45.50 215.40,50.56 215.60,55.54 215.80,60.37 216.00,64.99 216.20,69.36 216.40,73.43 216.60,77.18 216.80,80.60 217.00,83.68 217.20,86.43 217.40,88.85 217.60,90.96 217.80,92.79 218.00,94.35 218.20,95.67 218.40,96.78 218.60,97.70 218.80,98.45 219.00,99.07 219.20,99.57 219.40,99.96 219.60,100.28 219.80,100.53 220.00,100.72 220.20,100.87 220.40,100.98 220.60,101.06 220.80,101.13 221.00,101.18 221.20,101.21 221.40,101.24 221.60,101.26 221.80,101.27 222.00,101.28 222.20,101.29 222.40,101.29 222.60,101.29 222.80,101.30 223.00,101.30 223.20,101.30 223.40,101.30 223.60,101.30 223.80,101.30 224.00,101.30 224.20,101.30 224.40,101.30 224.60,101.30 224.80,101.30 225.00,101.30 225.20,101.30 225.40,101.30 225.60,101.30 225.80,101.30 226.00,101.30 226.20,101.30 226.40,101.30 226.60,101.30 226.80,101.30 227.00,101.30 227.20,101.30 227.40,101.30 227.60,101.30 227.80,101.30 228.00,101.30 228.20,101.30 228.40,101.30 228.60,101.30 228.80,101.30 229.00,101.30 229.20,101.30 229.40,101.30 229.60,101.30 229.80,101.30 230.00,101.30 230.20,101.30 230.40,101.30 230.60,101.30 230.80,101.30 231.00,101.30 231.20,101.30 231.40,101.30 231.60,101.30 231.80,101.30 232.00,101.30 232.20,101.30 232.40,101.30 232.60,101.30 232.80,101.30 233.00,101.30 233.20,101.30 233.40,101.30 233.60,101.30 233.80,101.30 234.00,101.30 234.20,101.30 234.40,101.30 234.60,101.30 234.80,101.30 235.00,101.30 235.20,101.30 235.40,101.30 235.60,101.30 235.80,101.30 236.00,101.30 236.20,101.30 236.40,101.30 236.60,101.30 236.80,101.30 237.00,101.30 237.20,101.30 237.40,101.30 237.60,101.30 237.80,101.30 238.00,101.30 238.20,101.30 238.40,101.30 238.60,101.30 238.80,101.30 239.00,101.30 239.20,101.30 239.40,101.30 239.60,101.30 239.80,101.30 240.00,101.30 240.20,101.30 240.40,101.30 240.60,101.30 240.80,101.30 241.00,101.30 241.20,101.30 241.40,101.30 241.60,101.30 241.80,101.30 242.00,101.30 242.20,101.30 242.40,101.30 242.60,101.30 242.80,101.30 243.00,101.30 243.20,101.30 243.40,101.30 243.60,101.30 243.80,101.30 244.00,101.30 244.20,101.30 244.40,101.30 244.60,101.30 244.80,101.30 245.00,101.30 245.20,101.30 245.40,101.30 245.60,101.30 245.80,101.30 246.00,101.30 246.20,101.30 246.40,101.30 246.60,101.30 246.80,101.30 247.00,101.30 247.20,101.30 247.40,101.30 247.60,101.30 247.80,101.30 248.00,101.30 248.20,101.30 248.40,101.30 248.60,101.30 248.80,101.30 249.00,101.30 249.20,101.30 249.40,101.30 249.60,101.30 249.80,101.30 250.00,101.30 250.20,101.30 250.40,101.30 250.60,101.30 250.80,101.30 251.00,101.30 251.20,101.30 251.40,101.30 251.60,101.30 251.80,101.30 252.00,101.30 252.20,101.30 252.40,101.30 252.60,101.30 252.80,101.30 253.00,101.30 253.20,101.30 253.40,101.30 253.60,101.30 253.80,101.30 254.00,101.30 254.20,101.30 254.40,101.30 254.60,101.30 254.80,101.30 255.00,101.30 255.20,101.30 255.40,101.30 255.60,101.30 255.80,101.30 256.00,101.30 256.20,101.30 256.40,101.30 256.60,101.30 256.80,101.30 257.00,101.30 257.20,101.30 257.40,101.30 257.60,101.30 257.80,101.30 258.00,101.30 258.20,101.30 258.40,101.30 258.60,101.30 258.80,101.30 259.00,101.30 259.20,101.30 259.40,101.30 259.60,101.30 259.80,101.30 260.00,101.30 260.20,101.30 260.40,101.30 260.60,101.30 260.80,101.30 261.00,101.30 261.20,101.30 261.40,101.30 261.60,101.30 261.80,101.30 262.00,101.30 262.20,101.30 262.40,101.30 262.60,101.30 262.80,101.30 263.00,101.30 263.20,101.30 263.40,101.30 263.60,101.30 263.80,101.30 264.00,101.30 264.20,101.30 264.40,101.30 264.60,101.30 264.80,101.30 265.00,101.30 265.20,101.30 265.40,101.30 265.60,101.30 265.80,101.30 266.00,101.30 266.20,101.30 266.40,101.30 266.60,101.30 266.80,101.30 267.00,101.30 267.20,101.30 267.40,101.30 267.60,101.30 267.80,101.30 268.00,101.30 268.20,101.30 268.40,101.30 268.60,101.30 268.80,101.30 269.00,101.30 269.20,101.30 269.40,101.30 269.60,101.30 269.80,101.30 270.00,101.30 270.20,101.30 270.40,101.30 270.60,101.30 270.80,101.30 271.00,101.30 271.20,101.30 271.40,101.30 271.60,101.30 271.80,101.30 272.00,101.30 272.20,101.30 272.40,101.30 272.60,101.30 272.80,101.30 273.00,101.30 273.20,101.30 273.40,101.30 273.60,101.30 273.80,101.30 274.00,101.30 274.20,101.30 274.40,101.30 274.60,101.30 274.80,101.30 275.00,101.30 275.20,101.30 275.40,101.30 275.60,101.30 275.80,101.30 276.00,101.30 276.20,101.30 276.40,101.30 276.60,101.30 276.80,101.30 277.00,101.30 277.20,101.30 277.40,101.30 277.60,101.30 277.80,101.30 278.00,101.30 278.20,101.30 278.40,101.30 278.60,101.30 278.80,101.30 279.00,101.30 279.20,101.30 279.40,101.30 279.60,101.30 279.80,101.30 280.00,101.30 280.20,101.30 280.40,101.30 280.60,101.30 280.80,101.30 281.00,101.30 281.20,101.30 281.40,101.30 281.60,101.30 281.80,101.30 282.00,101.30" fill="none" stroke="#9a9a10" stroke-width="1.1" stroke-dasharray="2.6 1 1 1 1 1" stroke-linejoin="round" />
<polyline points="195.00,101.25 195.30,101.24 195.60,101.22 195.90,101.20 196.20,101.18 196.50,101.15 196.80,101.11 197.10,101.06 197.40,101.01 197.70,100.94 198.00,100.86 198.30,100.76 198.60,100.64 198.90,100.50 199.20,100.34 199.50,100.15 199.80,99.93 200.10,99.66 200.40,99.36 200.70,99.02 201.00,98.62 201.30,98.16 201.60,97.64 201.90,97.06 202.20,96.40 202.50,95.67 202.80,94.85 203.10,93.95 203.40,92.96 203.70,91.87 204.00,90.68 204.30,89.40 204.60,88.02 204.90,86.54 205.20,84.96 205.50,83.30 205.80,81.55 206.10,79.72 206.40,77.82 206.70,75.86 207.00,73.85 207.30,71.81 207.60,69.76 207.90,67.71 208.20,65.67 208.50,63.67 208.80,61.73 209.10,59.86 209.40,58.09 209.70,56.44 210.00,54.92 210.30,53.55 210.60,52.35 210.90,51.34 211.20,50.51 211.50,49.90 211.80,49.50 212.10,49.31 212.40,49.35 212.70,49.61 213.00,50.08 213.30,50.77 213.60,51.65 213.90,52.73 214.20,53.99 214.50,55.41 214.80,56.98 215.10,58.67 215.40,60.48 215.70,62.37 216.00,64.33 216.30,66.35 216.60,68.39 216.90,70.45 217.20,72.50 217.50,74.52 217.80,76.52 218.10,78.46 218.40,80.33 218.70,82.14 219.00,83.86 219.30,85.50 219.60,87.04 219.90,88.49 220.20,89.84 220.50,91.09 220.80,92.24 221.10,93.30 221.40,94.26 221.70,95.14 222.00,95.92 222.30,96.63 222.60,97.26 222.90,97.82 223.20,98.32 223.50,98.76 223.80,99.14 224.10,99.47 224.40,99.76 224.70,100.00 225.00,100.22 225.30,100.40 225.60,100.55 225.90,100.68 226.20,100.79 226.50,100.89 226.80,100.96 227.10,101.03 227.40,101.08 227.70,101.12 228.00,101.16 228.30,101.19 228.60,101.21 228.90,101.23 229.20,101.24 229.50,101.26 229.80,101.27 230.10,101.27 230.40,101.28 230.70,101.28 231.00,101.29 231.30,101.29 231.60,101.29 231.90,101.29" fill="none" stroke="#9a9a10" stroke-width="1.1" stroke-dasharray="2.6 1 1 1 1 1" stroke-linejoin="round" />
<polyline points="205.00,101.30 205.20,101.30 205.40,101.30 205.60,101.30 205.80,101.30 206.00,101.30 206.20,101.30 206.40,101.30 206.60,101.30 206.80,101.30 207.00,101.30 207.20,101.30 207.40,101.30 207.60,101.30 207.80,101.29 208.00,101.29 208.20,101.27 208.40,101.25 208.60,101.21 208.80,101.15 209.00,101.04 209.20,100.87 209.40,100.60 209.60,100.18 209.80,99.57 210.00,98.68 210.20,97.43 210.40,95.72 210.60,93.43 210.80,90.47 211.00,86.75 211.20,82.19 211.40,76.80 211.60,70.63 211.80,63.79 212.00,56.50 212.20,49.05 212.40,41.79 212.60,35.10 212.80,29.38 213.00,25.00 213.20,22.24 213.40,21.30 213.60,22.24 213.80,25.00 214.00,29.38 214.20,35.10 214.40,41.79 214.60,49.05 214.80,56.50 215.00,63.79 215.20,70.63 215.40,76.80 215.60,82.19 215.80,86.75 216.00,90.47 216.20,93.43 216.40,95.72 216.60,97.43 216.80,98.68 217.00,99.57 217.20,100.18 217.40,100.60 217.60,100.87 217.80,101.04 218.00,101.15 218.20,101.21 218.40,101.25 218.60,101.27 218.80,101.29 219.00,101.29 219.20,101.30 219.40,101.30 219.60,101.30 219.80,101.30 220.00,101.30 220.20,101.30 220.40,101.30 220.60,101.30 220.80,101.30 221.00,101.30 221.20,101.30 221.40,101.30 221.60,101.30 221.80,101.30 222.00,101.30" fill="none" stroke="#9a9a10" stroke-width="0.9" stroke-dasharray="1 1.3" stroke-linejoin="round" />
<line x1="151.00" y1="101.80" x2="282.00" y2="101.80" stroke="#8a2be2" stroke-width="0.8"/>
<circle cx="151.00" cy="101.51" r="1.3" fill="#000"/>
<circle cx="151.77" cy="101.70" r="1.3" fill="#000"/>
<circle cx="152.54" cy="102.33" r="1.3" fill="#000"/>
<circle cx="153.31" cy="101.48" r="1.3" fill="#000"/>
<circle cx="154.08" cy="101.52" r="1.3" fill="#000"/>
<circle cx="154.85" cy="101.62" r="1.3" fill="#000"/>
<circle cx="155.62" cy="100.85" r="1.3" fill="#000"/>
<circle cx="156.39" cy="101.40" r="1.3" fill="#000"/>
<circle cx="157.16" cy="101.55" r="1.3" fill="#000"/>
<circle cx="157.93" cy="101.78" r="1.3" fill="#000"/>
<circle cx="158.70" cy="100.44" r="1.3" fill="#000"/>
<circle cx="159.47" cy="100.72" r="1.3" fill="#000"/>
<circle cx="160.24" cy="100.23" r="1.3" fill="#000"/>
<circle cx="161.01" cy="101.37" r="1.3" fill="#000"/>
<circle cx="161.78" cy="100.96" r="1.3" fill="#000"/>
<circle cx="162.55" cy="99.54" r="1.3" fill="#000"/>
<circle cx="163.32" cy="100.93" r="1.3" fill="#000"/>
<circle cx="164.09" cy="100.46" r="1.3" fill="#000"/>
<circle cx="164.86" cy="99.33" r="1.3" fill="#000"/>
<circle cx="165.63" cy="98.57" r="1.3" fill="#000"/>
<circle cx="166.40" cy="96.91" r="1.3" fill="#000"/>
<circle cx="167.17" cy="95.46" r="1.3" fill="#000"/>
<circle cx="167.94" cy="95.02" r="1.3" fill="#000"/>
<circle cx="168.71" cy="92.83" r="1.3" fill="#000"/>
<circle cx="169.48" cy="91.41" r="1.3" fill="#000"/>
<circle cx="170.25" cy="90.22" r="1.3" fill="#000"/>
<circle cx="171.02" cy="89.93" r="1.3" fill="#000"/>
<circle cx="171.79" cy="92.16" r="1.3" fill="#000"/>
<circle cx="172.56" cy="93.82" r="1.3" fill="#000"/>
<circle cx="173.33" cy="96.22" r="1.3" fill="#000"/>
<circle cx="174.10" cy="97.21" r="1.3" fill="#000"/>
<circle cx="174.87" cy="98.03" r="1.3" fill="#000"/>
<circle cx="175.64" cy="98.07" r="1.3" fill="#000"/>
<circle cx="176.41" cy="98.49" r="1.3" fill="#000"/>
<circle cx="177.18" cy="97.99" r="1.3" fill="#000"/>
<circle cx="177.95" cy="97.27" r="1.3" fill="#000"/>
<circle cx="178.72" cy="98.07" r="1.3" fill="#000"/>
<circle cx="179.49" cy="97.58" r="1.3" fill="#000"/>
<circle cx="180.26" cy="96.73" r="1.3" fill="#000"/>
<circle cx="181.03" cy="95.84" r="1.3" fill="#000"/>
<circle cx="181.80" cy="94.38" r="1.3" fill="#000"/>
<circle cx="182.57" cy="93.36" r="1.3" fill="#000"/>
<circle cx="183.34" cy="92.44" r="1.3" fill="#000"/>
<circle cx="184.11" cy="90.84" r="1.3" fill="#000"/>
<circle cx="184.88" cy="90.71" r="1.3" fill="#000"/>
<circle cx="185.65" cy="88.26" r="1.3" fill="#000"/>
<circle cx="186.42" cy="86.68" r="1.3" fill="#000"/>
<circle cx="187.19" cy="83.31" r="1.3" fill="#000"/>
<circle cx="187.96" cy="82.05" r="1.3" fill="#000"/>
<circle cx="188.73" cy="80.19" r="1.3" fill="#000"/>
<circle cx="189.50" cy="77.17" r="1.3" fill="#000"/>
<circle cx="190.27" cy="76.21" r="1.3" fill="#000"/>
<circle cx="191.04" cy="76.53" r="1.3" fill="#000"/>
<circle cx="191.81" cy="75.45" r="1.3" fill="#000"/>
<circle cx="192.58" cy="76.75" r="1.3" fill="#000"/>
<circle cx="193.35" cy="76.48" r="1.3" fill="#000"/>
<circle cx="194.12" cy="76.81" r="1.3" fill="#000"/>
<circle cx="194.89" cy="78.72" r="1.3" fill="#000"/>
<circle cx="195.66" cy="80.18" r="1.3" fill="#000"/>
<circle cx="196.43" cy="80.35" r="1.3" fill="#000"/>
<circle cx="197.20" cy="80.53" r="1.3" fill="#000"/>
<circle cx="197.97" cy="81.19" r="1.3" fill="#000"/>
<circle cx="198.74" cy="82.43" r="1.3" fill="#000"/>
<circle cx="199.51" cy="80.91" r="1.3" fill="#000"/>
<circle cx="200.28" cy="76.65" r="1.3" fill="#000"/>
<circle cx="201.05" cy="73.94" r="1.3" fill="#000"/>
<circle cx="201.82" cy="70.58" r="1.3" fill="#000"/>
<circle cx="202.59" cy="67.65" r="1.3" fill="#000"/>
<circle cx="203.36" cy="66.35" r="1.3" fill="#000"/>
<circle cx="204.13" cy="63.11" r="1.3" fill="#000"/>
<circle cx="204.90" cy="61.75" r="1.3" fill="#000"/>
<circle cx="205.67" cy="58.85" r="1.3" fill="#000"/>
<circle cx="206.44" cy="54.63" r="1.3" fill="#000"/>
<circle cx="207.21" cy="50.29" r="1.3" fill="#000"/>
<circle cx="207.98" cy="41.67" r="1.3" fill="#000"/>
<circle cx="208.75" cy="33.88" r="1.3" fill="#000"/>
<circle cx="209.52" cy="22.96" r="1.3" fill="#000"/>
<circle cx="210.29" cy="14.18" r="1.3" fill="#000"/>
<circle cx="211.06" cy="3.89" r="1.3" fill="#000"/>
<circle cx="211.83" cy="-23.13" r="1.3" fill="#000"/>
<circle cx="212.60" cy="-70.54" r="1.3" fill="#000"/>
<circle cx="213.37" cy="-87.91" r="1.3" fill="#000"/>
<circle cx="214.14" cy="-54.59" r="1.3" fill="#000"/>
<circle cx="214.91" cy="-9.13" r="1.3" fill="#000"/>
<circle cx="215.68" cy="8.01" r="1.3" fill="#000"/>
<circle cx="216.45" cy="18.99" r="1.3" fill="#000"/>
<circle cx="217.22" cy="33.62" r="1.3" fill="#000"/>
<circle cx="217.99" cy="47.63" r="1.3" fill="#000"/>
<circle cx="218.76" cy="59.45" r="1.3" fill="#000"/>
<circle cx="219.53" cy="69.83" r="1.3" fill="#000"/>
<circle cx="220.30" cy="79.43" r="1.3" fill="#000"/>
<circle cx="221.07" cy="86.33" r="1.3" fill="#000"/>
<circle cx="221.84" cy="90.46" r="1.3" fill="#000"/>
<circle cx="222.61" cy="91.97" r="1.3" fill="#000"/>
<circle cx="223.38" cy="93.69" r="1.3" fill="#000"/>
<circle cx="224.15" cy="94.78" r="1.3" fill="#000"/>
<circle cx="224.92" cy="96.09" r="1.3" fill="#000"/>
<circle cx="225.69" cy="97.97" r="1.3" fill="#000"/>
<circle cx="226.46" cy="98.21" r="1.3" fill="#000"/>
<circle cx="227.23" cy="99.53" r="1.3" fill="#000"/>
<circle cx="228.00" cy="99.48" r="1.3" fill="#000"/>
<circle cx="228.77" cy="99.89" r="1.3" fill="#000"/>
<circle cx="229.54" cy="101.01" r="1.3" fill="#000"/>
<circle cx="230.31" cy="100.32" r="1.3" fill="#000"/>
<circle cx="231.08" cy="100.62" r="1.3" fill="#000"/>
<circle cx="231.85" cy="101.24" r="1.3" fill="#000"/>
<circle cx="232.62" cy="100.09" r="1.3" fill="#000"/>
<circle cx="233.39" cy="100.11" r="1.3" fill="#000"/>
<circle cx="234.16" cy="101.54" r="1.3" fill="#000"/>
<circle cx="234.93" cy="101.44" r="1.3" fill="#000"/>
<circle cx="235.70" cy="100.47" r="1.3" fill="#000"/>
<circle cx="236.47" cy="100.41" r="1.3" fill="#000"/>
<circle cx="237.24" cy="101.44" r="1.3" fill="#000"/>
<circle cx="238.01" cy="101.84" r="1.3" fill="#000"/>
<circle cx="238.78" cy="100.53" r="1.3" fill="#000"/>
<circle cx="239.55" cy="101.90" r="1.3" fill="#000"/>
<circle cx="240.32" cy="101.79" r="1.3" fill="#000"/>
<circle cx="241.09" cy="101.30" r="1.3" fill="#000"/>
<circle cx="241.86" cy="100.98" r="1.3" fill="#000"/>
<circle cx="242.63" cy="100.42" r="1.3" fill="#000"/>
<circle cx="243.40" cy="100.31" r="1.3" fill="#000"/>
<circle cx="244.17" cy="101.98" r="1.3" fill="#000"/>
<circle cx="244.94" cy="100.68" r="1.3" fill="#000"/>
<circle cx="245.71" cy="101.53" r="1.3" fill="#000"/>
<circle cx="246.48" cy="100.73" r="1.3" fill="#000"/>
<circle cx="247.25" cy="101.76" r="1.3" fill="#000"/>
<circle cx="248.02" cy="101.35" r="1.3" fill="#000"/>
<circle cx="248.79" cy="100.81" r="1.3" fill="#000"/>
<circle cx="249.56" cy="100.60" r="1.3" fill="#000"/>
<circle cx="250.33" cy="101.59" r="1.3" fill="#000"/>
<circle cx="251.10" cy="100.42" r="1.3" fill="#000"/>
<circle cx="251.87" cy="100.71" r="1.3" fill="#000"/>
<circle cx="252.64" cy="101.30" r="1.3" fill="#000"/>
<circle cx="253.41" cy="101.83" r="1.3" fill="#000"/>
<circle cx="254.18" cy="101.41" r="1.3" fill="#000"/>
<circle cx="254.95" cy="100.80" r="1.3" fill="#000"/>
<circle cx="255.72" cy="101.94" r="1.3" fill="#000"/>
<circle cx="256.49" cy="100.61" r="1.3" fill="#000"/>
<circle cx="257.26" cy="100.20" r="1.3" fill="#000"/>
<circle cx="258.03" cy="100.55" r="1.3" fill="#000"/>
<circle cx="258.80" cy="100.74" r="1.3" fill="#000"/>
<circle cx="259.57" cy="99.78" r="1.3" fill="#000"/>
<circle cx="260.34" cy="99.37" r="1.3" fill="#000"/>
<circle cx="261.11" cy="98.80" r="1.3" fill="#000"/>
<circle cx="261.88" cy="97.85" r="1.3" fill="#000"/>
<circle cx="262.65" cy="94.55" r="1.3" fill="#000"/>
<circle cx="263.42" cy="92.46" r="1.3" fill="#000"/>
<circle cx="264.19" cy="91.36" r="1.3" fill="#000"/>
<circle cx="264.96" cy="89.69" r="1.3" fill="#000"/>
<circle cx="265.73" cy="88.51" r="1.3" fill="#000"/>
<circle cx="266.50" cy="89.80" r="1.3" fill="#000"/>
<circle cx="267.27" cy="91.75" r="1.3" fill="#000"/>
<circle cx="268.04" cy="93.22" r="1.3" fill="#000"/>
<circle cx="268.81" cy="95.86" r="1.3" fill="#000"/>
<circle cx="269.58" cy="97.75" r="1.3" fill="#000"/>
<circle cx="270.35" cy="100.35" r="1.3" fill="#000"/>
<circle cx="271.12" cy="100.71" r="1.3" fill="#000"/>
<circle cx="271.89" cy="101.60" r="1.3" fill="#000"/>
<circle cx="272.66" cy="100.08" r="1.3" fill="#000"/>
<circle cx="273.43" cy="101.32" r="1.3" fill="#000"/>
<circle cx="274.20" cy="101.14" r="1.3" fill="#000"/>
<circle cx="274.97" cy="101.66" r="1.3" fill="#000"/>
<circle cx="275.74" cy="100.96" r="1.3" fill="#000"/>
<circle cx="276.51" cy="102.22" r="1.3" fill="#000"/>
<circle cx="277.28" cy="100.59" r="1.3" fill="#000"/>
<circle cx="278.05" cy="101.46" r="1.3" fill="#000"/>
<circle cx="278.82" cy="101.83" r="1.3" fill="#000"/>
<circle cx="279.59" cy="102.14" r="1.3" fill="#000"/>
<circle cx="280.36" cy="101.87" r="1.3" fill="#000"/>
<circle cx="281.13" cy="101.83" r="1.3" fill="#000"/>
<circle cx="281.90" cy="102.00" r="1.3" fill="#000"/>
<polyline points="150.00,101.60 150.30,101.60 150.60,101.60 150.90,101.60 151.20,101.60 151.50,101.59 151.80,101.59 152.10,101.58 152.40,101.57 152.70,101.56 153.00,101.55 153.30,101.54 153.60,101.53 153.90,101.51 154.20,101.50 154.50,101.48 154.80,101.47 155.10,101.45 155.40,101.43 155.70,101.42 156.00,101.40 156.30,101.38 156.60,101.36 156.90,101.34 157.20,101.32 157.50,101.29 157.80,101.27 158.10,101.24 158.40,101.20 158.70,101.17 159.00,101.14 159.30,101.10 159.60,101.06 159.90,101.01 160.20,100.97 160.50,100.92 160.80,100.86 161.10,100.79 161.40,100.72 161.70,100.64 162.00,100.55 162.30,100.45 162.60,100.35 162.90,100.24 163.20,100.12 163.50,99.97 163.80,99.80 164.10,99.62 164.40,99.41 164.70,99.18 165.00,98.94 165.30,98.67 165.60,98.39 165.90,98.10 166.20,97.78 166.50,97.39 166.80,96.94 167.10,96.45 167.40,95.93 167.70,95.39 168.00,94.86 168.30,94.33 168.60,93.83 168.90,93.24 169.20,92.58 169.50,91.93 169.80,91.33 170.10,90.85 170.40,90.56 170.70,90.52 171.00,90.75 171.30,91.20 171.60,91.79 171.90,92.48 172.20,93.17 172.50,93.81 172.80,94.39 173.10,95.06 173.40,95.76 173.70,96.44 174.00,97.02 174.30,97.44 174.60,97.65 174.90,97.80 175.20,97.92 175.50,98.03 175.80,98.11 176.10,98.17 176.40,98.20 176.70,98.19 177.00,98.12 177.30,98.02 177.60,97.87 177.90,97.70 178.20,97.51 178.50,97.32 178.80,97.12 179.10,96.94 179.40,96.75 179.70,96.54 180.00,96.32 180.30,96.09 180.60,95.84 180.90,95.58 181.20,95.30 181.50,95.02 181.80,94.71 182.10,94.39 182.40,94.05 182.70,93.68 183.00,93.29 183.30,92.87 183.60,92.43 183.90,91.96 184.20,91.46 184.50,90.94 184.80,90.38 185.10,89.80 185.40,89.10 185.70,88.30 186.00,87.40 186.30,86.45 186.60,85.47 186.90,84.47 187.20,83.48 187.50,82.54 187.80,81.66 188.10,80.87 188.40,80.20 188.70,79.62 189.00,79.04 189.30,78.45 189.60,77.88 189.90,77.34 190.20,76.84 190.50,76.40 190.80,76.03 191.10,75.74 191.40,75.56 191.70,75.50 192.00,75.55 192.30,75.69 192.60,75.90 192.90,76.17 193.20,76.49 193.50,76.83 193.80,77.19 194.10,77.55 194.40,77.89 194.70,78.23 195.00,78.64 195.30,79.10 195.60,79.58 195.90,80.05 196.20,80.48 196.50,80.84 196.80,81.10 197.10,81.23 197.40,81.33 197.70,81.42 198.00,81.49 198.30,81.55 198.60,81.59 198.90,81.60 199.20,81.29 199.50,80.48 199.80,79.36 200.10,78.09 200.40,76.87 200.70,75.77 201.00,74.60 201.30,73.38 201.60,72.16 201.90,71.00 202.20,69.88 202.50,68.77 202.80,67.69 203.10,66.66 203.40,65.69 203.70,64.82 204.00,64.03 204.30,63.26 204.60,62.48 204.90,61.64 205.20,60.70 205.50,59.62 205.80,58.39 206.10,56.99 206.40,55.41 206.70,53.64 207.00,51.58 207.30,49.09 207.60,46.24 207.90,43.17 208.20,40.00 208.50,36.64 208.80,33.00 209.10,29.16 209.40,25.23 209.70,21.30 210.00,17.56 210.30,14.21 210.60,10.81 210.90,6.88 211.20,1.95 211.50,-6.04 211.80,-20.95 212.10,-39.89 212.40,-59.54 212.70,-76.56 213.00,-87.60 213.30,-89.45 213.60,-82.06 213.90,-68.17 214.20,-50.54 214.50,-31.91 214.80,-15.03 215.10,-2.65 215.40,4.01 215.70,8.82 216.00,12.86 216.30,16.91 216.60,21.70 216.90,27.04 217.20,32.61 217.50,38.18 217.80,43.73 218.10,49.47 218.40,54.87 218.70,59.38 219.00,63.06 219.30,66.37 219.60,69.77 219.90,73.79 220.20,78.45 220.50,82.60 220.80,85.18 221.10,86.92 221.40,88.33 221.70,89.48 222.00,90.50 222.30,91.42 222.60,92.25 222.90,93.00 223.20,93.68 223.50,94.30 223.80,94.89 224.10,95.46 224.40,95.99 224.70,96.49 225.00,96.94 225.30,97.35 225.60,97.72 225.90,98.06 226.20,98.40 226.50,98.71 226.80,99.00 227.10,99.25 227.40,99.45 227.70,99.60 228.00,99.71 228.30,99.82 228.60,99.92 228.90,100.01 229.20,100.10 229.50,100.17 229.80,100.25 230.10,100.31 230.40,100.37 230.70,100.42 231.00,100.47 231.30,100.52 231.60,100.55 231.90,100.59 232.20,100.62 232.50,100.65 232.80,100.68 233.10,100.71 233.40,100.74 233.70,100.76 234.00,100.79 234.30,100.82 234.60,100.84 234.90,100.86 235.20,100.89 235.50,100.91 235.80,100.93 236.10,100.95 236.40,100.97 236.70,100.98 237.00,101.00 237.30,101.02 237.60,101.03 237.90,101.04 238.20,101.05 238.50,101.06 238.80,101.07 239.10,101.08 239.40,101.09 239.70,101.10 240.00,101.10 240.30,101.10 240.60,101.11 240.90,101.11 241.20,101.12 241.50,101.12 241.80,101.12 242.10,101.13 242.40,101.13 242.70,101.13 243.00,101.14 243.30,101.14 243.60,101.14 243.90,101.14 244.20,101.15 244.50,101.15 244.80,101.15 245.10,101.16 245.40,101.16 245.70,101.16 246.00,101.16 246.30,101.17 246.60,101.17 246.90,101.17 247.20,101.17 247.50,101.17 247.80,101.18 248.10,101.18 248.40,101.18 248.70,101.18 249.00,101.18 249.30,101.19 249.60,101.19 249.90,101.19 250.20,101.19 250.50,101.19 250.80,101.19 251.10,101.19 251.40,101.19 251.70,101.20 252.00,101.20 252.30,101.20 252.60,101.20 252.90,101.20 253.20,101.20 253.50,101.20 253.80,101.20 254.10,101.20 254.40,101.20 254.70,101.20 255.00,101.20 255.30,101.20 255.60,101.19 255.90,101.18 256.20,101.16 256.50,101.14 256.80,101.12 257.10,101.09 257.40,101.05 257.70,101.01 258.00,100.97 258.30,100.92 258.60,100.87 258.90,100.82 259.20,100.75 259.50,100.61 259.80,100.42 260.10,100.18 260.40,99.89 260.70,99.55 261.00,99.18 261.30,98.78 261.60,98.34 261.90,97.66 262.20,96.77 262.50,95.75 262.80,94.68 263.10,93.66 263.40,92.76 263.70,91.99 264.00,91.18 264.30,90.36 264.60,89.59 264.90,88.94 265.20,88.46 265.50,88.22 265.80,88.27 266.10,88.63 266.40,89.22 266.70,89.97 267.00,90.82 267.30,91.68 267.60,92.50 267.90,93.39 268.20,94.45 268.50,95.57 268.80,96.67 269.10,97.62 269.40,98.33 269.70,98.79 270.00,99.19 270.30,99.56 270.60,99.88 270.90,100.17 271.20,100.41 271.50,100.60 271.80,100.74 272.10,100.82 272.40,100.89 272.70,100.95 273.00,101.00 273.30,101.05 273.60,101.09 273.90,101.13 274.20,101.17 274.50,101.20 274.80,101.23 275.10,101.25 275.40,101.27 275.70,101.29 276.00,101.30 276.30,101.31 276.60,101.32 276.90,101.34 277.20,101.35 277.50,101.36 277.80,101.37 278.10,101.38 278.40,101.39 278.70,101.40 279.00,101.41 279.30,101.42 279.60,101.42 279.90,101.43 280.20,101.44 280.50,101.45 280.80,101.45 281.10,101.46 281.40,101.47 281.70,101.47 282.00,101.48 282.30,101.48 282.60,101.48 282.90,101.49" fill="none" stroke="#000" stroke-width="1.1" stroke-linejoin="round" />
</g>
<line x1="150.60" y1="0.00" x2="150.60" y2="103.00" stroke="#8c8c8c" stroke-width="1.2"/>
<line x1="282.30" y1="0.00" x2="282.30" y2="103.00" stroke="#8c8c8c" stroke-width="1.2"/>
<line x1="150.60" y1="103.00" x2="282.30" y2="103.00" stroke="#8c8c8c" stroke-width="1.2"/>
<line x1="154.40" y1="103.00" x2="154.40" y2="101.00" stroke="#8c8c8c" stroke-width="0.8"/>
<text x="154.4" y="114.7" font-size="8.4" text-anchor="middle" font-weight="normal" fill="#000" stroke="#000" stroke-width="0.12">275</text>
<line x1="173.67" y1="103.00" x2="173.67" y2="101.00" stroke="#8c8c8c" stroke-width="0.8"/>
<text x="173.66750000000002" y="114.7" font-size="8.4" text-anchor="middle" font-weight="normal" fill="#000" stroke="#000" stroke-width="0.12">300</text>
<line x1="192.94" y1="103.00" x2="192.94" y2="101.00" stroke="#8c8c8c" stroke-width="0.8"/>
<text x="192.935" y="114.7" font-size="8.4" text-anchor="middle" font-weight="normal" fill="#000" stroke="#000" stroke-width="0.12">325</text>
<line x1="212.20" y1="103.00" x2="212.20" y2="101.00" stroke="#8c8c8c" stroke-width="0.8"/>
<text x="212.20250000000001" y="114.7" font-size="8.4" text-anchor="middle" font-weight="normal" fill="#000" stroke="#000" stroke-width="0.12">350</text>
<line x1="231.47" y1="103.00" x2="231.47" y2="101.00" stroke="#8c8c8c" stroke-width="0.8"/>
<text x="231.47000000000003" y="114.7" font-size="8.4" text-anchor="middle" font-weight="normal" fill="#000" stroke="#000" stroke-width="0.12">375</text>
<line x1="250.74" y1="103.00" x2="250.74" y2="101.00" stroke="#8c8c8c" stroke-width="0.8"/>
<text x="250.7375" y="114.7" font-size="8.4" text-anchor="middle" font-weight="normal" fill="#000" stroke="#000" stroke-width="0.12">400</text>
<line x1="270.00" y1="103.00" x2="270.00" y2="101.00" stroke="#8c8c8c" stroke-width="0.8"/>
<text x="270.005" y="114.7" font-size="8.4" text-anchor="middle" font-weight="normal" fill="#000" stroke="#000" stroke-width="0.12">425</text>
<text x="218" y="125.3" font-size="8.3" text-anchor="middle" font-weight="normal" fill="#000" stroke="#000" stroke-width="0.12">Raman shift (cm<tspan font-size="5" dy="-3">-1</tspan><tspan dy="3">)</tspan></text>
<text x="146.6" y="79.4" font-size="8.0" text-anchor="start" font-weight="normal" fill="#000" transform="rotate(-90 146.6 79.4)" stroke="#000" stroke-width="0.05">Intensity (Arbitrary Units)</text>
<line x1="221.00" y1="0.60" x2="231.40" y2="0.60" stroke="#b07cc8" stroke-width="1.6"/>
<text x="244.5" y="1.5" font-size="5" text-anchor="start" font-weight="normal" fill="#000" stroke="#000" stroke-width="0.04">E<tspan font-size="3.5" dy="1">g</tspan></text>
<line x1="221.00" y1="5.90" x2="236.00" y2="5.90" stroke="#1a8a1a" stroke-width="1.6" stroke-dasharray="4 7"/>
<text x="244.5" y="7.5" font-size="5" text-anchor="start" font-weight="normal" fill="#000" stroke="#000" stroke-width="0.04">A<tspan font-size="3.5" dy="1">g</tspan></text>
<line x1="221.00" y1="11.25" x2="242.00" y2="11.25" stroke="#000" stroke-width="1.6"/>
<text x="246" y="13.2" font-size="5.4" text-anchor="start" font-weight="normal" fill="#000" stroke="#000" stroke-width="0.04">Fitted Plot</text>
<line x1="321.40" y1="0.00" x2="321.40" y2="104.20" stroke="#8c8c8c" stroke-width="1.4"/>
<line x1="321.40" y1="104.20" x2="448.00" y2="104.20" stroke="#8c8c8c" stroke-width="1.4"/>
<line x1="328.30" y1="104.20" x2="328.30" y2="101.80" stroke="#555" stroke-width="0.8"/>
<text x="328.3" y="114.5" font-size="8.6" text-anchor="middle" font-weight="normal" fill="#000" stroke="#000" stroke-width="0.12">0</text>
<line x1="357.18" y1="104.20" x2="357.18" y2="101.80" stroke="#555" stroke-width="0.8"/>
<text x="357.18" y="114.5" font-size="8.6" text-anchor="middle" font-weight="normal" fill="#000" stroke="#000" stroke-width="0.12">2</text>
<line x1="386.06" y1="104.20" x2="386.06" y2="101.80" stroke="#555" stroke-width="0.8"/>
<text x="386.06" y="114.5" font-size="8.6" text-anchor="middle" font-weight="normal" fill="#000" stroke="#000" stroke-width="0.12">4</text>
<line x1="414.94" y1="104.20" x2="414.94" y2="101.80" stroke="#555" stroke-width="0.8"/>
<text x="414.94" y="114.5" font-size="8.6" text-anchor="middle" font-weight="normal" fill="#000" stroke="#000" stroke-width="0.12">6</text>
<line x1="443.82" y1="104.20" x2="443.82" y2="101.80" stroke="#555" stroke-width="0.8"/>
<text x="443.82" y="114.5" font-size="8.6" text-anchor="middle" font-weight="normal" fill="#000" stroke="#000" stroke-width="0.12">8</text>
<line x1="321.40" y1="95.93" x2="323.20" y2="95.93" stroke="#555" stroke-width="0.8"/>
<line x1="321.40" y1="87.90" x2="324.40" y2="87.90" stroke="#555" stroke-width="0.8"/>
<line x1="321.40" y1="79.87" x2="323.20" y2="79.87" stroke="#555" stroke-width="0.8"/>
<line x1="321.40" y1="71.84" x2="323.20" y2="71.84" stroke="#555" stroke-width="0.8"/>
<line x1="321.40" y1="63.81" x2="323.20" y2="63.81" stroke="#555" stroke-width="0.8"/>
<line x1="321.40" y1="55.78" x2="323.20" y2="55.78" stroke="#555" stroke-width="0.8"/>
<line x1="321.40" y1="47.75" x2="324.40" y2="47.75" stroke="#555" stroke-width="0.8"/>
<line x1="321.40" y1="39.72" x2="323.20" y2="39.72" stroke="#555" stroke-width="0.8"/>
<line x1="321.40" y1="31.69" x2="323.20" y2="31.69" stroke="#555" stroke-width="0.8"/>
<line x1="321.40" y1="23.66" x2="323.20" y2="23.66" stroke="#555" stroke-width="0.8"/>
<line x1="321.40" y1="15.63" x2="323.20" y2="15.63" stroke="#555" stroke-width="0.8"/>
<line x1="321.40" y1="7.60" x2="324.40" y2="7.60" stroke="#555" stroke-width="0.8"/>
<text x="319.4" y="11.0" font-size="8.8" text-anchor="end" font-weight="bold" fill="#000" stroke="#000" stroke-width="0.12">2</text>
<text x="319.4" y="51.1" font-size="8.8" text-anchor="end" font-weight="bold" fill="#000" stroke="#000" stroke-width="0.12">1.5</text>
<text x="319.4" y="91.3" font-size="8.8" text-anchor="end" font-weight="bold" fill="#000" stroke="#000" stroke-width="0.12">1</text>
<text x="389" y="125.8" font-size="8.4" text-anchor="middle" font-weight="normal" fill="#000" stroke="#000" stroke-width="0.12">Treatment time (s)</text>
<text x="303.6" y="84.6" font-size="8.0" text-anchor="start" font-weight="normal" fill="#000" transform="rotate(-90 303.6 84.6)" stroke="#000" stroke-width="0.3" letter-spacing="0.18">LA(M)/[A1g(M)-LA(M)]</text>
<polyline points="328.30,87.90 357.18,5.99 386.06,-1.23" fill="none" stroke="#111" stroke-width="1.1" stroke-linejoin="round" />
<line x1="328.30" y1="67.83" x2="328.30" y2="94.32" stroke="#555" stroke-width="0.8"/>
<line x1="326.80" y1="67.83" x2="329.80" y2="67.83" stroke="#555" stroke-width="0.8"/>
<line x1="326.80" y1="94.32" x2="329.80" y2="94.32" stroke="#555" stroke-width="0.8"/>
<line x1="357.18" y1="0.30" x2="357.18" y2="13.90" stroke="#555" stroke-width="0.8"/>
<line x1="355.68" y1="0.30" x2="358.68" y2="0.30" stroke="#555" stroke-width="0.8"/>
<line x1="355.68" y1="13.90" x2="358.68" y2="13.90" stroke="#555" stroke-width="0.8"/>
<line x1="386.06" y1="-5.00" x2="386.06" y2="2.50" stroke="#555" stroke-width="0.8"/>
<line x1="384.56" y1="-5.00" x2="387.56" y2="-5.00" stroke="#555" stroke-width="0.8"/>
<line x1="384.56" y1="2.50" x2="387.56" y2="2.50" stroke="#555" stroke-width="0.8"/>
<line x1="328.30" y1="67.00" x2="328.30" y2="81.00" stroke="#555" stroke-width="0.8"/>
<line x1="326.80" y1="67.00" x2="329.80" y2="67.00" stroke="#555" stroke-width="0.8"/>
<line x1="326.80" y1="81.00" x2="329.80" y2="81.00" stroke="#555" stroke-width="0.8"/>
<line x1="357.18" y1="44.40" x2="357.18" y2="65.00" stroke="#555" stroke-width="0.8"/>
<line x1="355.68" y1="44.40" x2="358.68" y2="44.40" stroke="#555" stroke-width="0.8"/>
<line x1="355.68" y1="65.00" x2="358.68" y2="65.00" stroke="#555" stroke-width="0.8"/>
<line x1="386.06" y1="14.40" x2="386.06" y2="37.50" stroke="#555" stroke-width="0.8"/>
<line x1="384.56" y1="14.40" x2="387.56" y2="14.40" stroke="#555" stroke-width="0.8"/>
<line x1="384.56" y1="37.50" x2="387.56" y2="37.50" stroke="#555" stroke-width="0.8"/>
<line x1="414.94" y1="20.80" x2="414.94" y2="45.80" stroke="#555" stroke-width="0.8"/>
<line x1="413.44" y1="20.80" x2="416.44" y2="20.80" stroke="#555" stroke-width="0.8"/>
<line x1="413.44" y1="45.80" x2="416.44" y2="45.80" stroke="#555" stroke-width="0.8"/>
<line x1="443.82" y1="16.00" x2="443.82" y2="43.60" stroke="#555" stroke-width="0.8"/>
<line x1="442.32" y1="16.00" x2="445.32" y2="16.00" stroke="#555" stroke-width="0.8"/>
<line x1="442.32" y1="43.60" x2="445.32" y2="43.60" stroke="#555" stroke-width="0.8"/>
<polyline points="328.30,74.25 357.18,54.98 386.06,26.87 414.94,34.10 443.82,30.08" fill="none" stroke="#e00000" stroke-width="1.1" stroke-dasharray="2.6 1.6" stroke-linejoin="round" />
<rect x="325.9" y="71.8" width="4.8" height="4.8" fill="#e00000"/>
<rect x="354.8" y="52.6" width="4.8" height="4.8" fill="#e00000"/>
<rect x="383.7" y="24.5" width="4.8" height="4.8" fill="#e00000"/>
<rect x="412.5" y="31.7" width="4.8" height="4.8" fill="#e00000"/>
<rect x="441.4" y="27.7" width="4.8" height="4.8" fill="#e00000"/>
<circle cx="328.30" cy="87.90" r="2.3" fill="#000"/>
<circle cx="357.18" cy="5.99" r="2.3" fill="#000"/>
<line x1="0.00" y1="143.80" x2="129.00" y2="143.80" stroke="#8c8c8c" stroke-width="1.3"/>
<line x1="129.00" y1="143.80" x2="129.00" y2="252.00" stroke="#8c8c8c" stroke-width="1.3"/>
<line x1="149.70" y1="143.80" x2="279.80" y2="143.80" stroke="#8c8c8c" stroke-width="1.3"/>
<line x1="149.70" y1="143.80" x2="149.70" y2="252.00" stroke="#8c8c8c" stroke-width="1.3"/>
<line x1="279.80" y1="143.80" x2="279.80" y2="252.00" stroke="#8c8c8c" stroke-width="1.3"/>
<line x1="279.80" y1="154.00" x2="278.00" y2="154.00" stroke="#8c8c8c" stroke-width="0.8"/>
<line x1="320.60" y1="143.80" x2="448.00" y2="143.80" stroke="#8c8c8c" stroke-width="1.3"/>
<line x1="320.60" y1="143.80" x2="320.60" y2="252.00" stroke="#8c8c8c" stroke-width="1.3"/>
<text x="1.5" y="153.9" font-size="8.6" text-anchor="start" font-weight="bold" fill="#000" stroke="#000" stroke-width="0.12">(c)</text>
<g clip-path="url(#cc)">
<polyline points="37.00,187.71 37.30,186.20 37.60,184.69 37.90,183.15 38.20,181.70 38.50,180.44 38.80,179.50 39.10,178.76 39.40,178.07 39.70,177.52 40.00,177.17 40.20,177.10 40.60,177.34 41.00,178.06 41.40,179.24 41.80,180.87 42.20,182.91 42.60,185.33 43.00,188.08 43.40,191.13 43.80,194.41 44.20,197.88 44.60,201.49 45.00,205.19 45.40,208.92 45.80,212.64 46.20,216.31 46.60,219.88 47.00,223.33 47.40,226.62 47.80,229.74 48.20,232.66 48.60,235.38 49.00,237.88 49.40,240.17 49.80,242.25 50.20,244.12 50.60,245.79 51.00,247.26 51.40,248.56 51.80,249.69 52.20,250.67 52.60,251.52 53.00,252.23 53.40,252.84 53.80,253.36 54.20,253.79 54.60,254.14 55.00,254.44 55.40,254.68 55.80,254.87 56.20,255.03 56.60,255.15 57.00,255.25 57.40,255.33 57.80,255.40 58.20,255.45 58.60,255.48 59.00,255.51 59.40,255.53 59.80,255.55 60.20,255.56 60.60,255.57 61.00,255.58 61.40,255.59 61.80,255.59" fill="none" stroke="#e00000" stroke-width="1.1" stroke-linejoin="round" />
<polyline points="50.00,255.00 50.40,255.00 50.80,255.00 51.20,255.00 51.60,255.00 52.00,254.99 52.40,254.97 52.80,254.92 53.20,254.82 53.60,254.63 54.00,254.27 54.40,253.66 54.80,252.72 55.20,251.39 55.60,249.66 56.00,247.64 56.40,245.56 56.80,243.72 57.20,242.45 57.60,242.00 58.00,242.45 58.40,243.72 58.80,245.56 59.20,247.64 59.60,249.66 60.00,251.39 60.40,252.72 60.80,253.66 61.20,254.27 61.60,254.63 62.00,254.82 62.40,254.92 62.80,254.97 63.20,254.99 63.60,255.00 64.00,255.00 64.40,255.00 64.80,255.00 65.20,255.00 65.60,255.00 66.00,255.00" fill="none" stroke="#1010e0" stroke-width="1.1" stroke-dasharray="2.5 1.5" stroke-linejoin="round" />
<polyline points="0.00,256.99 0.30,256.99 0.60,256.99 0.90,256.98 1.20,256.98 1.50,256.98 1.80,256.97 2.10,256.97 2.40,256.96 2.70,256.96 3.00,256.95 3.30,256.95 3.60,256.94 3.90,256.93 4.20,256.93 4.50,256.92 4.80,256.91 5.10,256.90 5.40,256.90 5.70,256.89 6.00,256.88 6.30,256.87 6.60,256.86 6.90,256.85 7.20,256.84 7.50,256.83 7.80,256.82 8.10,256.81 8.40,256.80 8.70,256.79 9.00,256.78 9.30,256.77 9.60,256.75 9.90,256.74 10.20,256.73 10.50,256.72 10.80,256.70 11.10,256.69 11.40,256.68 11.70,256.66 12.00,256.65 12.30,256.64 12.60,256.62 12.90,256.61 13.20,256.59 13.50,256.58 13.80,256.56 14.10,256.55 14.40,256.53 14.70,256.52 15.00,256.50 15.30,256.48 15.60,256.46 15.90,256.44 16.20,256.42 16.50,256.39 16.80,256.36 17.10,256.33 17.40,256.30 17.70,256.26 18.00,256.23 18.30,256.19 18.60,256.14 18.90,256.10 19.20,256.05 19.50,256.00 19.80,255.95 20.10,255.90 20.40,255.84 20.70,255.78 21.00,255.72 21.30,255.66 21.60,255.59 21.90,255.52 22.20,255.45 22.50,255.37 22.80,255.29 23.10,255.19 23.40,255.09 23.70,254.97 24.00,254.83 24.30,254.69 24.60,254.52 24.90,254.34 25.20,254.14 25.50,253.92 25.80,253.68 26.10,253.40 26.40,252.96 26.70,252.35 27.00,251.59 27.30,250.71 27.60,249.75 27.90,248.71 28.20,247.63 28.50,246.32 28.80,244.78 29.10,243.05 29.40,241.18 29.70,239.24 30.00,237.25 30.30,235.28 30.60,233.37 30.90,231.45 31.20,229.51 31.50,227.52 31.80,225.49 32.10,223.41 32.40,221.27 32.70,219.07 33.00,216.80 33.30,214.35 33.60,211.68 33.90,208.90 34.20,206.11 34.50,203.44 34.80,200.97 35.10,198.81 35.40,196.82 35.70,194.94 36.00,193.15 36.30,191.44 36.60,189.80 36.90,188.22 37.20,186.70 37.50,185.20 37.80,183.66 38.10,182.17 38.40,180.83 38.70,179.77 39.00,179.00 39.30,178.29 39.60,177.68 39.90,177.26 40.20,177.10 40.50,177.27 40.80,177.74 41.10,178.42 41.40,179.22 41.70,180.24 42.00,181.87 42.30,183.81 42.60,185.70 42.90,187.48 43.20,189.31 43.50,191.17 43.80,193.05 44.10,194.95 44.40,196.84 44.70,198.72 45.00,200.58 45.30,202.40 45.60,204.15 45.90,205.78 46.20,207.33 46.50,208.87 46.80,210.45 47.10,212.14 47.40,213.98 47.70,216.05 48.00,218.52 48.30,221.63 48.60,224.92 48.90,228.00 49.20,231.09 49.50,234.04 49.80,236.50 50.10,238.73 50.40,240.67 50.70,241.50 51.00,241.34 51.30,240.97 51.60,240.50 51.90,239.88 52.20,239.01 52.50,238.04 52.80,237.08 53.10,236.23 53.40,235.37 53.70,234.51 54.00,233.70 54.30,233.01 54.60,232.50 54.90,232.11 55.20,231.74 55.50,231.42 55.80,231.18 56.10,231.03 56.40,231.02 56.70,231.24 57.00,231.67 57.30,232.27 57.60,232.99 57.90,233.80 58.20,235.06 58.50,236.75 58.80,238.68 59.10,240.71 59.40,243.31 59.70,246.23 60.00,248.96 60.30,251.00 60.60,252.53 60.90,253.99 61.20,255.28 61.50,256.27 61.80,256.88 62.10,257.00 62.40,257.00 62.70,257.00 63.00,257.00 63.30,257.00 63.60,257.00 63.90,257.00 64.20,257.00 64.50,257.00 64.80,257.00 65.10,257.00 65.40,257.00 65.70,257.00 66.00,257.00 66.30,257.00 66.60,257.00 66.90,257.00 67.20,257.00 67.50,257.00 67.80,257.00 68.10,257.00 68.40,257.00 68.70,257.00 69.00,257.00 69.30,257.00 69.60,257.00 69.90,257.00 70.20,257.00 70.50,257.00 70.80,257.00 71.10,257.00 71.40,257.00 71.70,257.00 72.00,257.00 72.30,257.00 72.60,257.00 72.90,257.00 73.20,257.00 73.50,257.00 73.80,257.00 74.10,257.00 74.40,257.00 74.70,257.00 75.00,257.00 75.30,257.00 75.60,257.00 75.90,257.00 76.20,257.00 76.50,257.00 76.80,257.00 77.10,257.00 77.40,257.00 77.70,257.00 78.00,257.00 78.30,257.00 78.60,257.00 78.90,257.00 79.20,257.00 79.50,257.00 79.80,257.00 80.10,257.00 80.40,257.00 80.70,257.00 81.00,257.00 81.30,257.00 81.60,257.00 81.90,257.00 82.20,257.00 82.50,257.00 82.80,257.00 83.10,257.00 83.40,257.00 83.70,257.00 84.00,257.00 84.30,257.00 84.60,257.00 84.90,257.00 85.20,256.99 85.50,256.96 85.80,256.89 86.10,256.79 86.40,256.65 86.70,256.49 87.00,256.29 87.30,256.05 87.60,255.77 87.90,255.46 88.20,255.12 88.50,254.73 88.80,254.31 89.10,253.75 89.40,252.08 89.70,249.39 90.00,246.16 90.30,242.87 90.60,240.00 90.90,237.18 91.20,234.32 91.50,232.32 91.80,231.61 92.10,231.14 92.40,230.86 92.70,230.81 93.00,231.02 93.30,231.43 93.60,232.00 93.90,233.48 94.20,236.11 94.50,239.08 94.80,242.02 95.10,245.68 95.40,249.39 95.70,252.42 96.00,254.00 96.30,254.57 96.60,255.09 96.90,255.54 97.20,255.93 97.50,256.26 97.80,256.53 98.10,256.73 98.40,256.88 98.70,256.97 99.00,257.00 99.30,257.00 99.60,257.00 99.90,257.00 100.20,257.00 100.50,257.00 100.80,257.00 101.10,257.00 101.40,257.00 101.70,257.00 102.00,257.00 102.30,257.00 102.60,257.00 102.90,257.00 103.20,257.00 103.50,257.00 103.80,257.00 104.10,257.00 104.40,257.00 104.70,257.00 105.00,257.00 105.30,257.00 105.60,257.00 105.90,257.00 106.20,257.00 106.50,257.00 106.80,257.00 107.10,257.00 107.40,257.00 107.70,257.00 108.00,257.00 108.30,257.00 108.60,257.00 108.90,257.00 109.20,257.00 109.50,257.00 109.80,257.00 110.10,257.00 110.40,257.00 110.70,257.00 111.00,257.00 111.30,257.00 111.60,257.00 111.90,257.00 112.20,257.00 112.50,257.00 112.80,257.00 113.10,257.00 113.40,257.00 113.70,257.00 114.00,257.00 114.30,257.00 114.60,257.00 114.90,257.00 115.20,257.00 115.50,257.00 115.80,257.00 116.10,257.00 116.40,257.00 116.70,257.00 117.00,257.00 117.30,257.00 117.60,257.00 117.90,257.00 118.20,257.00 118.50,257.00 118.80,257.00 119.10,257.00 119.40,257.00 119.70,257.00 120.00,257.00 120.30,257.00 120.60,257.00 120.90,257.00 121.20,257.00 121.50,257.00 121.80,257.00 122.10,257.00 122.40,257.00 122.70,257.00 123.00,257.00 123.30,257.00 123.60,257.00 123.90,257.00 124.20,257.00 124.50,257.00 124.80,257.00 125.10,257.00 125.40,257.00 125.70,257.00 126.00,257.00 126.30,257.00 126.60,257.00 126.90,257.00 127.20,257.00 127.50,257.00 127.80,257.00 128.10,257.00 128.40,257.00 128.70,257.00 129.00,257.00" fill="none" stroke="#000" stroke-width="1.2" stroke-linejoin="round" />
<circle cx="39.90" cy="172.60" r="1.3" fill="#000"/>
<circle cx="37.40" cy="190.90" r="1.3" fill="#000"/>
<circle cx="39.20" cy="199.50" r="1.3" fill="#000"/>
<circle cx="40.90" cy="201.20" r="1.3" fill="#000"/>
<circle cx="36.40" cy="208.10" r="1.3" fill="#000"/>
<circle cx="42.60" cy="209.20" r="1.3" fill="#000"/>
<circle cx="46.10" cy="216.80" r="1.3" fill="#000"/>
<circle cx="25.40" cy="218.50" r="1.3" fill="#000"/>
<circle cx="28.80" cy="225.40" r="1.3" fill="#000"/>
<circle cx="30.20" cy="228.90" r="1.3" fill="#000"/>
<circle cx="31.60" cy="239.20" r="1.3" fill="#000"/>
<circle cx="53.00" cy="239.20" r="1.3" fill="#000"/>
<circle cx="55.70" cy="230.60" r="1.3" fill="#000"/>
<circle cx="58.10" cy="232.30" r="1.3" fill="#000"/>
<circle cx="60.60" cy="237.50" r="1.3" fill="#000"/>
<circle cx="56.40" cy="242.70" r="1.3" fill="#000"/>
<circle cx="51.20" cy="247.80" r="1.3" fill="#000"/>
<circle cx="63.30" cy="249.60" r="1.3" fill="#000"/>
<circle cx="53.00" cy="250.60" r="1.3" fill="#000"/>
<circle cx="38.50" cy="187.00" r="1.3" fill="#000"/>
<circle cx="44.00" cy="186.00" r="1.3" fill="#000"/>
<circle cx="34.50" cy="197.00" r="1.3" fill="#000"/>
<circle cx="32.00" cy="210.00" r="1.3" fill="#000"/>
<circle cx="34.00" cy="215.00" r="1.3" fill="#000"/>
<circle cx="33.50" cy="234.50" r="1.3" fill="#000"/>
<circle cx="36.70" cy="235.00" r="1.3" fill="#000"/>
<circle cx="42.00" cy="241.00" r="1.3" fill="#000"/>
<circle cx="37.00" cy="245.00" r="1.3" fill="#000"/>
<circle cx="47.30" cy="230.00" r="1.3" fill="#000"/>
<circle cx="8.00" cy="249.00" r="1.3" fill="#000"/>
<circle cx="78.00" cy="247.00" r="1.3" fill="#000"/>
<circle cx="89.00" cy="249.00" r="1.3" fill="#000"/>
<circle cx="98.00" cy="245.00" r="1.3" fill="#000"/>
<circle cx="120.00" cy="239.50" r="1.3" fill="#000"/>
<circle cx="122.00" cy="250.00" r="1.3" fill="#000"/>
<circle cx="91.80" cy="223.00" r="1.3" fill="#000"/>
<circle cx="94.50" cy="231.00" r="1.3" fill="#000"/>
<circle cx="90.20" cy="231.00" r="1.3" fill="#000"/>
<circle cx="92.50" cy="231.50" r="1.3" fill="#000"/>
</g>
<g clip-path="url(#ccl)">
<circle cx="85.30" cy="149.00" r="1.45" fill="#000"/>
<text x="99.5" y="151.1" font-size="5.2" text-anchor="start" font-weight="normal" fill="#222" stroke="none">Data</text>
<line x1="74.80" y1="154.40" x2="96.20" y2="154.40" stroke="#e00000" stroke-width="1.3"/>
<text x="99.5" y="156.5" font-size="5.2" text-anchor="start" font-weight="normal" fill="#222" stroke="none">LA(M)</text>
<line x1="74.80" y1="160.20" x2="96.20" y2="160.20" stroke="#1010e0" stroke-width="1.4" stroke-dasharray="3.6 2.4"/>
<text x="99.5" y="162.3" font-size="5.2" text-anchor="start" font-weight="normal" fill="#222" stroke="none">191.4 cm<tspan font-size="3.6" dy="-2">-1</tspan></text>
<line x1="74.80" y1="166.30" x2="96.20" y2="166.30" stroke="#d030d0" stroke-width="1.1" stroke-dasharray="2.5 1.5 1 1.5"/>
<text x="99.5" y="168.4" font-size="5.2" text-anchor="start" font-weight="normal" fill="#222" stroke="none">201 cm<tspan font-size="3.6" dy="-2">-1</tspan></text>
<line x1="74.80" y1="172.40" x2="96.20" y2="172.40" stroke="#8a8a10" stroke-width="1.3" stroke-dasharray="4 2 1.2 2"/>
<text x="99.5" y="174.5" font-size="5.2" text-anchor="start" font-weight="normal" fill="#222" stroke="none">A<tspan font-size="3.6" dy="1">1g</tspan><tspan dy="-1">(M)-LA(M)</tspan></text>
<line x1="74.80" y1="178.20" x2="96.20" y2="178.20" stroke="#000" stroke-width="1.4"/>
<text x="99.5" y="180.3" font-size="5.2" text-anchor="start" font-weight="normal" fill="#222" stroke="none">Fitted plot</text>
</g>
<text x="153.1" y="154.6" font-size="8.3" text-anchor="start" font-weight="normal" fill="#000" stroke="#000" stroke-width="0.12">(d)</text>
<text x="146.4" y="257" font-size="8.6" text-anchor="start" font-weight="normal" fill="#000" transform="rotate(-90 146.4 257)" stroke="#000" stroke-width="0.05">Intensity (Arbitrary Units)</text>
<g clip-path="url(#cd)">
<polyline points="190.00,256.45 190.40,256.44 190.80,256.42 191.20,256.40 191.60,256.37 192.00,256.34 192.40,256.30 192.80,256.25 193.20,256.18 193.60,256.11 194.00,256.02 194.40,255.90 194.80,255.77 195.20,255.61 195.60,255.43 196.00,255.21 196.40,254.96 196.80,254.66 197.20,254.32 197.60,253.94 198.00,253.50 198.40,253.00 198.80,252.44 199.20,251.82 199.60,251.13 200.00,250.37 200.40,249.54 200.80,248.64 201.20,247.67 201.60,246.63 202.00,245.53 202.40,244.37 202.80,243.15 203.20,241.90 203.60,240.61 204.00,239.30 204.40,237.97 204.80,236.65 205.20,235.35 205.60,234.09 206.00,232.87 206.40,231.72 206.80,230.65 207.20,229.67 207.60,228.81 208.00,228.06 208.40,227.46 208.80,226.99 209.20,226.68 209.60,226.52 210.00,226.52 210.40,226.68 210.80,226.99 211.20,227.46 211.60,228.06 212.00,228.81 212.40,229.67 212.80,230.65 213.20,231.72 213.60,232.87 214.00,234.09 214.40,235.35 214.80,236.65 215.20,237.97 215.60,239.30 216.00,240.61 216.40,241.90 216.80,243.15 217.20,244.37 217.60,245.53 218.00,246.63 218.40,247.67 218.80,248.64 219.20,249.54 219.60,250.37 220.00,251.13 220.40,251.82 220.80,252.44 221.20,253.00 221.60,253.50 222.00,253.94 222.40,254.32 222.80,254.66 223.20,254.96 223.60,255.21 224.00,255.43 224.40,255.61 224.80,255.77 225.20,255.90 225.60,256.02 226.00,256.11 226.40,256.18 226.80,256.25 227.20,256.30 227.60,256.34 228.00,256.37 228.40,256.40 228.80,256.42 229.20,256.44 229.60,256.45 230.00,256.46" fill="none" stroke="#e020e0" stroke-width="1.1" stroke-dasharray="3 1.2 1 1.2" stroke-linejoin="round" />
<polyline points="190.00,255.00 190.40,255.00 190.80,255.00 191.20,255.00 191.60,255.00 192.00,255.00 192.40,255.00 192.80,255.00 193.20,255.00 193.60,255.00 194.00,255.00 194.40,255.00 194.80,255.00 195.20,255.00 195.60,255.00 196.00,255.00 196.40,254.99 196.80,254.99 197.20,254.98 197.60,254.98 198.00,254.96 198.40,254.95 198.80,254.93 199.20,254.89 199.60,254.85 200.00,254.80 200.40,254.73 200.80,254.64 201.20,254.52 201.60,254.37 202.00,254.19 202.40,253.98 202.80,253.72 203.20,253.42 203.60,253.07 204.00,252.67 204.40,252.23 204.80,251.75 205.20,251.24 205.60,250.70 206.00,250.15 206.40,249.60 206.80,249.06 207.20,248.55 207.60,248.10 208.00,247.70 208.40,247.39 208.80,247.16 209.20,247.03 209.60,247.00 210.00,247.08 210.40,247.26 210.80,247.53 211.20,247.89 211.60,248.32 212.00,248.80 212.40,249.32 212.80,249.87 213.20,250.42 213.60,250.97 214.00,251.50 214.40,252.00 214.80,252.46 215.20,252.88 215.60,253.25 216.00,253.57 216.40,253.85 216.80,254.09 217.20,254.29 217.60,254.45 218.00,254.58 218.40,254.68 218.80,254.77 219.20,254.83 219.60,254.88 220.00,254.91 220.40,254.94 220.80,254.96 221.20,254.97 221.60,254.98 222.00,254.99 222.40,254.99 222.80,254.99 223.20,255.00 223.60,255.00 224.00,255.00 224.40,255.00 224.80,255.00 225.20,255.00 225.60,255.00 226.00,255.00 226.40,255.00 226.80,255.00 227.20,255.00 227.60,255.00 228.00,255.00 228.40,255.00 228.80,255.00 229.20,255.00 229.60,255.00 230.00,255.00" fill="none" stroke="#800080" stroke-width="1.0" stroke-linejoin="round" />
<polyline points="198.00,255.50 198.25,255.50 198.50,255.50 198.75,255.50 199.00,255.50 199.25,255.50 199.50,255.50 199.75,255.50 200.00,255.50 200.25,255.50 200.50,255.50 200.75,255.49 201.00,255.49 201.25,255.48 201.50,255.48 201.75,255.46 202.00,255.45 202.25,255.42 202.50,255.38 202.75,255.33 203.00,255.26 203.25,255.16 203.50,255.02 203.75,254.84 204.00,254.60 204.25,254.28 204.50,253.87 204.75,253.35 205.00,252.69 205.25,251.88 205.50,250.89 205.75,249.69 206.00,248.27 206.25,246.61 206.50,244.70 206.75,242.53 207.00,240.11 207.25,237.44 207.50,234.57 207.75,231.52 208.00,228.36 208.25,225.13 208.50,221.93 208.75,218.82 209.00,215.89 209.25,213.23 209.50,210.92 209.75,209.04 210.00,207.64 210.25,206.79 210.50,206.50 210.75,206.79 211.00,207.64 211.25,209.04 211.50,210.92 211.75,213.23 212.00,215.89 212.25,218.82 212.50,221.93 212.75,225.13 213.00,228.36 213.25,231.52 213.50,234.57 213.75,237.44 214.00,240.11 214.25,242.53 214.50,244.70 214.75,246.61 215.00,248.27 215.25,249.69 215.50,250.89 215.75,251.88 216.00,252.69 216.25,253.35 216.50,253.87 216.75,254.28 217.00,254.60 217.25,254.84 217.50,255.02 217.75,255.16 218.00,255.26 218.25,255.33 218.50,255.38 218.75,255.42 219.00,255.45 219.25,255.46 219.50,255.48 219.75,255.48 220.00,255.49 220.25,255.49 220.50,255.50 220.75,255.50 221.00,255.50 221.25,255.50 221.50,255.50 221.75,255.50 222.00,255.50 222.25,255.50 222.50,255.50 222.75,255.50 223.00,255.50 223.25,255.50 223.50,255.50 223.75,255.50 224.00,255.50" fill="none" stroke="#9a9a10" stroke-width="1.1" stroke-dasharray="2.6 1 1 1 1 1" stroke-linejoin="round" />
<polyline points="203.00,255.50 203.20,255.50 203.40,255.50 203.60,255.50 203.80,255.50 204.00,255.50 204.20,255.50 204.40,255.50 204.60,255.50 204.80,255.50 205.00,255.50 205.20,255.49 205.40,255.49 205.60,255.47 205.80,255.45 206.00,255.42 206.20,255.36 206.40,255.26 206.60,255.11 206.80,254.89 207.00,254.55 207.20,254.06 207.40,253.37 207.60,252.43 207.80,251.17 208.00,249.55 208.20,247.50 208.40,244.99 208.60,242.03 208.80,238.63 209.00,234.87 209.20,230.86 209.40,226.76 209.60,222.77 209.80,219.09 210.00,215.95 210.20,213.53 210.40,212.02 210.60,211.50 210.80,212.02 211.00,213.53 211.20,215.95 211.40,219.09 211.60,222.77 211.80,226.76 212.00,230.86 212.20,234.87 212.40,238.63 212.60,242.03 212.80,244.99 213.00,247.50 213.20,249.55 213.40,251.17 213.60,252.43 213.80,253.37 214.00,254.06 214.20,254.55 214.40,254.89 214.60,255.11 214.80,255.26 215.00,255.36 215.20,255.42 215.40,255.45 215.60,255.47 215.80,255.49 216.00,255.49 216.20,255.50 216.40,255.50 216.60,255.50 216.80,255.50 217.00,255.50 217.20,255.50 217.40,255.50 217.60,255.50 217.80,255.50 218.00,255.50 218.20,255.50 218.40,255.50 218.60,255.50 218.80,255.50 219.00,255.50" fill="none" stroke="#9a9a10" stroke-width="0.9" stroke-dasharray="1 1.3" stroke-linejoin="round" />
<polyline points="196.00,256.00 196.20,255.48 196.40,254.96 196.60,254.42 196.80,253.88 197.00,253.32 197.20,252.76 197.40,252.18 197.60,251.60 197.80,251.00 198.00,250.39 198.20,249.78 198.40,249.15 198.60,248.51 198.80,247.87 199.00,247.21 199.20,246.55 199.40,245.87 199.60,245.19 199.80,244.49 200.00,243.79 200.20,243.08 200.40,242.36 200.60,241.63 200.80,240.89 201.00,240.13 201.20,239.36 201.40,238.58 201.60,237.78 201.80,236.98 202.00,236.17 202.20,235.34 202.40,234.52 202.60,233.68 202.80,232.84 203.00,232.00 203.20,231.15 203.40,230.30 203.60,229.45 203.80,228.58 204.00,227.70 204.20,226.81 204.40,225.89 204.60,224.96 204.80,224.00 205.00,223.02 205.20,222.02 205.40,220.99 205.60,219.94 205.80,218.86 206.00,217.74 206.20,216.59 206.40,215.40 206.60,214.16 206.80,212.87 207.00,211.54 207.20,210.16 207.40,208.73 207.60,207.25 207.80,205.70" fill="none" stroke="#000" stroke-width="1.1" stroke-linejoin="round" />
<polyline points="211.00,178.44 211.20,177.62 211.40,177.52 211.60,177.67 211.80,177.95 212.00,178.32 212.20,178.76 212.40,179.29 212.60,180.18 212.80,181.36 213.00,182.75 213.20,184.25 213.40,185.78 213.60,187.48 213.80,189.39 214.00,191.49 214.20,193.78 214.40,196.24 214.60,198.89 214.80,202.03 215.00,206.00 215.20,212.18 215.40,220.00 215.60,229.16 215.80,235.81 216.00,240.45 216.20,244.25 216.40,247.70 216.60,250.87 216.80,253.67 217.00,256.00" fill="none" stroke="#000" stroke-width="1.2" stroke-linejoin="round" />
<circle cx="210.50" cy="169.90" r="1.3" fill="#000"/>
<circle cx="211.10" cy="177.60" r="1.3" fill="#000"/>
<circle cx="209.50" cy="182.00" r="1.3" fill="#000"/>
<circle cx="210.20" cy="174.00" r="1.3" fill="#000"/>
<circle cx="212.00" cy="181.00" r="1.3" fill="#000"/>
<circle cx="209.80" cy="186.00" r="1.3" fill="#000"/>
<circle cx="212.80" cy="188.00" r="1.3" fill="#000"/>
<circle cx="208.80" cy="196.00" r="1.3" fill="#000"/>
<circle cx="213.60" cy="196.00" r="1.3" fill="#000"/>
<circle cx="213.10" cy="184.50" r="1.3" fill="#000"/>
<circle cx="209.00" cy="192.70" r="1.3" fill="#000"/>
<circle cx="213.80" cy="191.00" r="1.3" fill="#000"/>
<circle cx="207.40" cy="201.80" r="1.3" fill="#000"/>
<circle cx="214.20" cy="201.80" r="1.3" fill="#000"/>
<circle cx="207.00" cy="211.00" r="1.3" fill="#000"/>
<circle cx="206.80" cy="216.00" r="1.3" fill="#000"/>
<circle cx="215.10" cy="211.00" r="1.3" fill="#000"/>
<circle cx="204.50" cy="225.00" r="1.3" fill="#000"/>
<circle cx="215.60" cy="233.00" r="1.3" fill="#000"/>
<circle cx="201.50" cy="238.00" r="1.3" fill="#000"/>
<circle cx="199.50" cy="244.00" r="1.3" fill="#000"/>
<circle cx="186.90" cy="247.00" r="1.3" fill="#000"/>
<circle cx="189.50" cy="249.00" r="1.3" fill="#000"/>
<circle cx="192.00" cy="248.00" r="1.3" fill="#000"/>
<circle cx="190.50" cy="251.00" r="1.3" fill="#000"/>
<circle cx="222.00" cy="250.00" r="1.3" fill="#000"/>
<circle cx="215.80" cy="222.00" r="1.3" fill="#000"/>
<circle cx="262.50" cy="247.50" r="1.3" fill="#000"/>
</g>
<g clip-path="url(#cdl)">
<circle cx="234.90" cy="148.30" r="1.5" fill="#000"/>
<text x="249.2" y="150.1" font-size="4.9" text-anchor="start" font-weight="normal" fill="#222" stroke="none">Data</text>
<line x1="224.00" y1="153.90" x2="243.00" y2="153.90" stroke="#e00000" stroke-width="1.4" stroke-dasharray="4.4 2.3"/>
<text x="248" y="155.8" font-size="4.9" text-anchor="start" font-weight="normal" fill="#222" stroke="none">2LA(M)-2E<tspan font-size="3.2" dy="-2">2</tspan><tspan font-size="3.2" dy="3">1g</tspan><tspan dy="-1">(M)</tspan></text>
<line x1="224.50" y1="159.20" x2="243.00" y2="159.20" stroke="#2020c0" stroke-width="1.4" stroke-dasharray="1.3 1.5"/>
<text x="248" y="161.0" font-size="4.9" text-anchor="start" font-weight="normal" fill="#222" stroke="none">321.0 cm<tspan font-size="3.2" dy="-2">-1</tspan></text>
<line x1="224.00" y1="164.20" x2="243.00" y2="164.20" stroke="#e020e0" stroke-width="1.4" stroke-dasharray="3 1.5 1.2 1.5"/>
<text x="248" y="166.0" font-size="4.9" text-anchor="start" font-weight="normal" fill="#222" stroke="none">E<tspan font-size="3.2" dy="-2">1</tspan><tspan font-size="3.2" dy="3">2g</tspan><tspan dy="-1">(M)</tspan></text>
<line x1="224.00" y1="169.40" x2="243.00" y2="169.40" stroke="#9a9a10" stroke-width="1.4" stroke-dasharray="3 1.5 1 1.5 1 1.5"/>
<text x="249" y="171.2" font-size="4.9" text-anchor="start" font-weight="normal" fill="#222" stroke="none">2LA(M)</text>
<line x1="224.00" y1="174.10" x2="245.50" y2="174.10" stroke="#800080" stroke-width="1.6"/>
<text x="248" y="175.9" font-size="4.9" text-anchor="start" font-weight="normal" fill="#222" stroke="none">E<tspan font-size="3.2" dy="1">g</tspan></text>
<line x1="224.00" y1="179.30" x2="245.50" y2="179.30" stroke="#108a10" stroke-width="1.6"/>
<text x="248" y="181.1" font-size="4.9" text-anchor="start" font-weight="normal" fill="#222" stroke="none">A<tspan font-size="3.2" dy="1">g</tspan></text>
<line x1="224.00" y1="184.60" x2="245.50" y2="184.60" stroke="#000" stroke-width="1.6"/>
<text x="249" y="186.4" font-size="4.9" text-anchor="start" font-weight="normal" fill="#222" stroke="none">Fitted Plot</text>
</g>
<text x="436.5" y="154.6" font-size="8.6" text-anchor="start" font-weight="normal" fill="#000" stroke="#000" stroke-width="0.12">(f)</text>
<text x="318.4" y="251.2" font-size="7.7" text-anchor="start" font-weight="normal" fill="#000" transform="rotate(-90 318.4 251.2)" stroke="#000" stroke-width="0.05">Intensity (Arbitrary Units)</text>
<line x1="324.00" y1="148.70" x2="342.60" y2="148.70" stroke="#000" stroke-width="1.2"/>
<text x="346.5" y="150.8" font-size="5.9" text-anchor="start" font-weight="normal" fill="#222" stroke="none">Pristine</text>
<line x1="324.00" y1="155.30" x2="342.60" y2="155.30" stroke="#c03040" stroke-width="1.1" stroke-dasharray="2.6 1.6"/>
<text x="346.5" y="157.6" font-size="5.9" text-anchor="start" font-weight="normal" fill="#222" stroke="none">2s treatment</text>
<line x1="324.00" y1="161.90" x2="342.60" y2="161.90" stroke="#7070c8" stroke-width="1.1" stroke-dasharray="1 1.2"/>
<text x="346.5" y="164.2" font-size="5.9" text-anchor="start" font-weight="normal" fill="#222" stroke="none">4s treatment</text>
<line x1="324.00" y1="168.50" x2="342.60" y2="168.50" stroke="#2a8a3a" stroke-width="1.1" stroke-dasharray="2.5 1.3 1 1.3"/>
<text x="346.5" y="170.8" font-size="5.9" text-anchor="start" font-weight="normal" fill="#222" stroke="none">6s treatment</text>
<line x1="324.00" y1="175.20" x2="342.60" y2="175.20" stroke="#d02090" stroke-width="1.1" stroke-dasharray="2.5 1.2 1 1.2 1 1.2"/>
<text x="346.5" y="177.4" font-size="5.9" text-anchor="start" font-weight="normal" fill="#222" stroke="none">8s treatment</text>
<g clip-path="url(#cf)">
<polyline points="320.60,257.66 321.00,258.30 321.40,258.23 321.80,257.77 322.20,257.98 322.60,257.93 323.00,258.10 323.40,258.21 323.80,257.57 324.20,257.49 324.60,258.19 325.00,257.79 325.40,258.04 325.80,257.30 326.20,257.64 326.60,257.81 327.00,257.29 327.40,257.85 327.80,257.73 328.20,256.86 328.60,256.77 329.00,257.16 329.40,257.46 329.80,256.92 330.20,256.74 330.60,256.92 331.00,256.59 331.40,256.79 331.80,257.04 332.20,257.16 332.60,257.00 333.00,257.08 333.40,257.16 333.80,257.46 334.20,257.39 334.60,257.22 335.00,258.02 335.40,257.83 335.80,257.95 336.20,257.58 336.60,258.34 337.00,258.25 337.40,257.60 337.80,257.81 338.20,258.17 338.60,258.17 339.00,258.37 339.40,257.92 339.80,258.28 340.20,258.14 340.60,257.81 341.00,258.07 341.40,258.34 341.80,258.30 342.20,258.00 342.60,258.07 343.00,257.57 343.40,257.76 343.80,258.26 344.20,257.91 344.60,257.70 345.00,258.03 345.40,258.17 345.80,258.15 346.20,257.88 346.60,257.93 347.00,258.00 347.40,258.24 347.80,258.01 348.20,257.89 348.60,257.97 349.00,257.56 349.40,257.56 349.80,258.15 350.20,258.39 350.60,258.02 351.00,257.83 351.40,257.60 351.80,257.87 352.20,258.26 352.60,258.03 353.00,257.78 353.40,258.02 353.80,257.41 354.20,257.61 354.60,257.97 355.00,257.60 355.40,257.46 355.80,257.28 356.20,257.53 356.60,257.91 357.00,257.08 357.40,257.81 357.80,257.89 358.20,257.99 358.60,257.91 359.00,258.02 359.40,257.80 359.80,257.88 360.20,257.80 360.60,257.49 361.00,258.25 361.40,258.00 361.80,257.68 362.20,257.96 362.60,257.95 363.00,257.84 363.40,257.84 363.80,258.01 364.20,258.09 364.60,258.08 365.00,257.94 365.40,257.55 365.80,257.74 366.20,257.69 366.60,258.05 367.00,258.30 367.40,258.25 367.80,258.25 368.20,258.26 368.60,257.76 369.00,258.28 369.40,258.13 369.80,257.60 370.20,257.54 370.60,257.54 371.00,258.20 371.40,257.75 371.80,257.62 372.20,258.08 372.60,257.83 373.00,257.58 373.40,257.66 373.80,257.99 374.20,257.67 374.60,257.76 375.00,258.16 375.40,257.93 375.80,257.80 376.20,257.94 376.60,257.53 377.00,257.86 377.40,257.88 377.80,257.66 378.20,257.57 378.60,258.26 379.00,257.88 379.40,257.56 379.80,257.85 380.20,257.94 380.60,257.11 381.00,256.95 381.40,256.89 381.80,257.20 382.20,256.48 382.60,256.75 383.00,256.52 383.40,256.22 383.80,255.79 384.20,256.38 384.60,256.21 385.00,256.00 385.40,255.84 385.80,256.38 386.20,256.34 386.60,256.71 387.00,256.68 387.40,257.15 387.80,256.79 388.20,257.12 388.60,257.78 389.00,257.71 389.40,257.14 389.80,257.52 390.20,256.85 390.60,257.17 391.00,256.70 391.40,256.05 391.80,255.52 392.20,254.89 392.60,255.27 393.00,254.14 393.40,254.53 393.80,254.42 394.20,253.92 394.60,253.52 395.00,254.22 395.40,254.49 395.80,254.51 396.20,254.66 396.60,254.91 397.00,255.27 397.40,255.52 397.80,256.29 398.20,256.39 398.60,256.43 399.00,256.56 399.40,257.23 399.80,257.00 400.20,257.25 400.60,257.12 401.00,257.61 401.40,257.59 401.80,256.72 402.20,256.75 402.60,256.65 403.00,256.87 403.40,256.08 403.80,254.68 404.20,252.98 404.60,250.99 405.00,247.66 405.40,243.01 405.80,236.46 406.20,229.81 406.60,221.83 407.00,213.93 407.40,207.69 407.80,202.40 408.20,201.19 408.60,202.27 409.00,206.95 409.40,214.31 409.80,221.41 410.20,229.70 410.60,236.69 411.00,242.93 411.40,247.23 411.80,250.68 412.20,253.05 412.60,255.15 413.00,255.92 413.40,256.84 413.80,257.16 414.20,256.71 414.60,257.23 415.00,256.93 415.40,256.95 415.80,257.04 416.20,257.81 416.60,257.78 417.00,257.86 417.40,257.45 417.80,257.73 418.20,257.91 418.60,257.56 419.00,257.76 419.40,257.46 419.80,257.35 420.20,257.53 420.60,258.11 421.00,257.83 421.40,258.16 421.80,257.75 422.20,257.60 422.60,258.06 423.00,258.11 423.40,257.38 423.80,257.98 424.20,257.46 424.60,257.48 425.00,258.18 425.40,257.42 425.80,257.60 426.20,258.28 426.60,257.76 427.00,257.49 427.40,257.53 427.80,257.60 428.20,258.04 428.60,257.46 429.00,258.18 429.40,257.69 429.80,258.22 430.20,258.15 430.60,257.58 431.00,257.52 431.40,257.69 431.80,257.32 432.20,257.78 432.60,257.17 433.00,257.08 433.40,257.87 433.80,257.13 434.20,257.24 434.60,256.89 435.00,256.47 435.40,255.85 435.80,256.12 436.20,255.68 436.60,255.39 437.00,254.72 437.40,255.24 437.80,256.12 438.20,256.89 438.60,256.85 439.00,257.24 439.40,257.40 439.80,257.18 440.20,257.54 440.60,257.41 441.00,257.41 441.40,257.31 441.80,257.53 442.20,258.20 442.60,257.74 443.00,257.95 443.40,257.96 443.80,258.24 444.20,257.76 444.60,257.70 445.00,257.72 445.40,257.72 445.80,258.21 446.20,258.26 446.60,257.73 447.00,257.77 447.40,257.96 447.80,258.00 448.20,258.01 448.60,257.70 449.00,257.50" fill="none" stroke="#222" stroke-width="1.0" stroke-linejoin="round" />
<polyline points="320.60,250.90 321.00,250.89 321.40,250.08 321.80,250.10 322.20,250.76 322.60,250.66 323.00,250.58 323.40,250.22 323.80,250.44 324.20,250.39 324.60,250.29 325.00,249.82 325.40,249.95 325.80,249.78 326.20,249.92 326.60,249.99 327.00,249.75 327.40,249.18 327.80,248.87 328.20,248.50 328.60,248.09 329.00,247.90 329.40,248.14 329.80,247.90 330.20,247.90 330.60,248.34 331.00,248.05 331.40,248.17 331.80,248.01 332.20,247.98 332.60,248.45 333.00,248.48 333.40,249.04 333.80,249.69 334.20,249.60 334.60,249.35 335.00,250.16 335.40,250.22 335.80,250.28 336.20,250.54 336.60,250.49 337.00,250.58 337.40,250.24 337.80,250.84 338.20,250.85 338.60,250.14 339.00,250.69 339.40,250.67 339.80,250.44 340.20,250.51 340.60,250.47 341.00,250.87 341.40,250.49 341.80,250.78 342.20,250.35 342.60,250.83 343.00,250.85 343.40,250.45 343.80,250.55 344.20,250.86 344.60,250.69 345.00,250.47 345.40,250.23 345.80,250.33 346.20,250.66 346.60,250.18 347.00,250.85 347.40,250.27 347.80,250.85 348.20,250.30 348.60,250.88 349.00,250.65 349.40,250.46 349.80,250.45 350.20,250.55 350.60,250.46 351.00,250.18 351.40,250.03 351.80,250.25 352.20,250.56 352.60,250.20 353.00,249.61 353.40,250.19 353.80,250.00 354.20,250.08 354.60,249.35 355.00,249.78 355.40,249.11 355.80,249.62 356.20,249.28 356.60,249.26 357.00,249.89 357.40,249.27 357.80,249.73 358.20,250.12 358.60,249.66 359.00,249.73 359.40,250.42 359.80,250.09 360.20,250.43 360.60,249.87 361.00,250.21 361.40,250.08 361.80,250.56 362.20,250.05 362.60,250.85 363.00,250.02 363.40,250.67 363.80,250.03 364.20,250.25 364.60,250.75 365.00,250.16 365.40,250.18 365.80,250.64 366.20,250.36 366.60,250.06 367.00,250.91 367.40,250.15 367.80,250.05 368.20,250.32 368.60,250.57 369.00,250.68 369.40,250.11 369.80,250.31 370.20,250.04 370.60,250.41 371.00,250.70 371.40,250.67 371.80,250.82 372.20,250.69 372.60,250.78 373.00,250.64 373.40,250.43 373.80,250.20 374.20,250.59 374.60,250.28 375.00,250.09 375.40,250.40 375.80,250.78 376.20,250.10 376.60,250.51 377.00,250.33 377.40,250.43 377.80,250.07 378.20,250.77 378.60,250.08 379.00,250.31 379.40,250.02 379.80,249.48 380.20,249.74 380.60,249.06 381.00,248.61 381.40,248.15 381.80,247.76 382.20,247.16 382.60,247.09 383.00,246.45 383.40,246.43 383.80,246.04 384.20,245.89 384.60,245.16 385.00,245.47 385.40,245.56 385.80,246.25 386.20,246.76 386.60,247.43 387.00,247.86 387.40,247.93 387.80,248.47 388.20,248.85 388.60,248.54 389.00,248.58 389.40,248.79 389.80,248.24 390.20,248.34 390.60,247.30 391.00,246.43 391.40,245.63 391.80,244.71 392.20,243.69 392.60,242.97 393.00,241.99 393.40,241.06 393.80,240.76 394.20,240.02 394.60,240.56 395.00,240.80 395.40,241.03 395.80,241.42 396.20,242.32 396.60,243.32 397.00,243.81 397.40,245.10 397.80,246.09 398.20,246.57 398.60,247.15 399.00,248.31 399.40,248.30 399.80,248.67 400.20,249.10 400.60,248.71 401.00,248.08 401.40,248.06 401.80,246.45 402.20,244.52 402.60,242.77 403.00,238.97 403.40,234.78 403.80,229.64 404.20,222.60 404.60,213.93 405.00,205.30 405.40,195.73 405.80,186.34 406.20,177.46 406.60,170.88 407.00,166.13 407.40,165.42 407.80,168.16 408.20,174.39 408.60,181.51 409.00,191.28 409.40,200.35 409.80,210.04 410.20,218.47 410.60,226.05 411.00,232.57 411.40,237.24 411.80,240.82 412.20,243.63 412.60,245.59 413.00,247.65 413.40,248.38 413.80,249.27 414.20,249.43 414.60,249.09 415.00,249.83 415.40,250.06 415.80,250.11 416.20,249.98 416.60,249.92 417.00,250.07 417.40,250.42 417.80,249.99 418.20,250.26 418.60,250.26 419.00,250.72 419.40,250.62 419.80,250.77 420.20,250.71 420.60,250.25 421.00,250.22 421.40,250.47 421.80,250.29 422.20,250.46 422.60,250.71 423.00,250.94 423.40,250.66 423.80,250.88 424.20,250.25 424.60,250.49 425.00,251.08 425.40,250.32 425.80,250.57 426.20,250.26 426.60,250.28 427.00,251.01 427.40,251.09 427.80,250.79 428.20,250.31 428.60,250.45 429.00,250.38 429.40,250.76 429.80,250.75 430.20,250.51 430.60,250.55 431.00,250.14 431.40,250.48 431.80,250.78 432.20,250.53 432.60,249.83 433.00,250.07 433.40,250.08 433.80,249.43 434.20,249.68 434.60,248.86 435.00,248.48 435.40,247.41 435.80,246.96 436.20,245.79 436.60,245.03 437.00,244.85 437.40,245.96 437.80,246.61 438.20,248.03 438.60,248.98 439.00,248.87 439.40,249.54 439.80,249.79 440.20,249.93 440.60,250.37 441.00,250.69 441.40,250.58 441.80,250.45 442.20,250.96 442.60,250.44 443.00,250.86 443.40,250.82 443.80,250.94 444.20,251.05 444.60,250.51 445.00,250.88 445.40,250.70 445.80,250.96 446.20,251.25 446.60,250.95 447.00,250.40 447.40,250.82 447.80,251.05 448.20,251.21 448.60,251.01 449.00,251.17" fill="none" stroke="#c82828" stroke-width="1.25" stroke-dasharray="2.8 1.6" stroke-linejoin="round" />
<polyline points="320.60,237.75 321.00,238.02 321.40,237.85 321.80,238.05 322.20,238.05 322.60,237.52 323.00,237.43 323.40,238.12 323.80,237.52 324.20,237.40 324.60,237.95 325.00,237.31 325.40,237.44 325.80,236.87 326.20,236.73 326.60,235.97 327.00,236.05 327.40,235.89 327.80,235.19 328.20,235.00 328.60,234.57 329.00,233.70 329.40,234.06 329.80,233.71 330.20,233.34 330.60,233.07 331.00,233.89 331.40,233.69 331.80,234.15 332.20,234.59 332.60,234.79 333.00,235.35 333.40,235.26 333.80,236.01 334.20,236.06 334.60,236.84 335.00,237.09 335.40,236.65 335.80,236.91 336.20,237.17 336.60,237.99 337.00,237.63 337.40,237.89 337.80,237.66 338.20,237.89 338.60,237.82 339.00,237.81 339.40,238.04 339.80,238.05 340.20,238.34 340.60,238.15 341.00,238.37 341.40,238.31 341.80,238.43 342.20,238.14 342.60,237.68 343.00,238.31 343.40,238.41 343.80,238.35 344.20,238.05 344.60,238.18 345.00,237.73 345.40,238.29 345.80,238.05 346.20,237.79 346.60,237.59 347.00,238.30 347.40,238.42 347.80,237.61 348.20,238.24 348.60,237.88 349.00,237.63 349.40,237.74 349.80,238.13 350.20,238.18 350.60,237.38 351.00,237.82 351.40,237.21 351.80,237.69 352.20,237.20 352.60,237.53 353.00,237.44 353.40,236.82 353.80,237.07 354.20,236.27 354.60,235.89 355.00,236.23 355.40,235.62 355.80,235.72 356.20,235.90 356.60,236.14 357.00,235.83 357.40,235.86 357.80,236.77 358.20,236.45 358.60,237.23 359.00,237.36 359.40,237.08 359.80,237.31 360.20,237.51 360.60,237.74 361.00,237.79 361.40,237.84 361.80,237.95 362.20,238.28 362.60,237.92 363.00,237.87 363.40,238.15 363.80,237.72 364.20,237.79 364.60,238.40 365.00,237.99 365.40,238.01 365.80,237.53 366.20,237.89 366.60,238.04 367.00,237.54 367.40,238.07 367.80,238.09 368.20,237.57 368.60,238.08 369.00,237.94 369.40,238.13 369.80,237.83 370.20,238.15 370.60,238.18 371.00,237.53 371.40,237.57 371.80,238.12 372.20,238.38 372.60,237.74 373.00,237.92 373.40,238.04 373.80,237.80 374.20,237.83 374.60,237.79 375.00,237.84 375.40,238.04 375.80,237.77 376.20,237.84 376.60,238.19 377.00,237.51 377.40,237.99 377.80,238.12 378.20,237.71 378.60,237.58 379.00,238.04 379.40,237.43 379.80,237.25 380.20,237.29 380.60,237.28 381.00,236.45 381.40,236.29 381.80,235.90 382.20,235.91 382.60,235.11 383.00,235.07 383.40,234.09 383.80,233.97 384.20,234.09 384.60,234.26 385.00,233.96 385.40,233.97 385.80,234.19 386.20,234.93 386.60,235.03 387.00,235.99 387.40,236.37 387.80,236.07 388.20,236.35 388.60,236.91 389.00,236.70 389.40,236.65 389.80,235.88 390.20,235.17 390.60,234.63 391.00,234.25 391.40,232.81 391.80,231.82 392.20,230.77 392.60,229.68 393.00,228.65 393.40,228.25 393.80,226.91 394.20,226.39 394.60,227.14 395.00,227.29 395.40,227.88 395.80,228.11 396.20,229.50 396.60,230.51 397.00,230.95 397.40,232.48 397.80,233.55 398.20,234.27 398.60,234.88 399.00,235.26 399.40,235.73 399.80,235.88 400.20,235.81 400.60,236.15 401.00,235.48 401.40,235.23 401.80,233.37 402.20,232.40 402.60,229.74 403.00,226.59 403.40,222.21 403.80,216.80 404.20,210.10 404.60,202.33 405.00,195.21 405.40,186.85 405.80,179.62 406.20,173.83 406.60,169.57 407.00,168.01 407.40,169.97 407.80,173.82 408.20,179.72 408.60,187.00 409.00,195.42 409.40,202.87 409.80,210.43 410.20,216.48 410.60,221.78 411.00,226.48 411.40,230.13 411.80,232.08 412.20,234.46 412.60,235.85 413.00,236.61 413.40,237.21 413.80,236.87 414.20,237.70 414.60,238.11 415.00,237.53 415.40,237.85 415.80,237.96 416.20,238.29 416.60,238.29 417.00,238.43 417.40,238.79 417.80,238.18 418.20,238.32 418.60,238.47 419.00,238.55 419.40,238.59 419.80,239.49 420.20,239.46 420.60,238.85 421.00,239.30 421.40,239.21 421.80,239.28 422.20,239.39 422.60,239.72 423.00,239.74 423.40,239.59 423.80,239.50 424.20,239.68 424.60,239.55 425.00,239.99 425.40,240.17 425.80,239.91 426.20,239.68 426.60,239.80 427.00,240.00 427.40,240.24 427.80,240.42 428.20,240.07 428.60,240.46 429.00,240.30 429.40,240.13 429.80,240.07 430.20,240.16 430.60,240.32 431.00,240.03 431.40,240.23 431.80,239.96 432.20,239.68 432.60,239.83 433.00,239.82 433.40,239.06 433.80,239.11 434.20,238.75 434.60,238.65 435.00,238.01 435.40,236.58 435.80,235.91 436.20,234.66 436.60,233.53 437.00,233.95 437.40,234.63 437.80,236.45 438.20,237.37 438.60,238.39 439.00,238.91 439.40,239.24 439.80,239.62 440.20,239.72 440.60,239.49 441.00,240.07 441.40,239.66 441.80,239.88 442.20,240.52 442.60,239.92 443.00,240.02 443.40,240.07 443.80,240.81 444.20,240.21 444.60,240.09 445.00,240.85 445.40,240.22 445.80,240.89 446.20,240.75 446.60,240.92 447.00,241.03 447.40,240.71 447.80,240.92 448.20,240.24 448.60,240.90 449.00,240.68" fill="none" stroke="#5c5cc0" stroke-width="1.15" stroke-dasharray="1.1 1.1" stroke-linejoin="round" />
<polyline points="320.60,224.34 321.00,224.22 321.40,224.47 321.80,224.24 322.20,224.13 322.60,224.40 323.00,224.82 323.40,224.64 323.80,224.52 324.20,223.90 324.60,224.03 325.00,223.59 325.40,223.25 325.80,222.89 326.20,222.64 326.60,222.89 327.00,222.37 327.40,221.89 327.80,221.41 328.20,220.39 328.60,220.05 329.00,219.94 329.40,219.71 329.80,219.58 330.20,219.46 330.60,218.72 331.00,219.27 331.40,219.52 331.80,219.66 332.20,219.73 332.60,220.42 333.00,220.53 333.40,221.76 333.80,222.17 334.20,222.34 334.60,222.53 335.00,223.45 335.40,223.47 335.80,224.02 336.20,224.21 336.60,224.08 337.00,224.14 337.40,224.41 337.80,224.34 338.20,224.16 338.60,224.33 339.00,224.82 339.40,224.14 339.80,224.16 340.20,224.69 340.60,224.38 341.00,224.61 341.40,224.56 341.80,224.45 342.20,225.03 342.60,224.31 343.00,224.51 343.40,224.32 343.80,224.71 344.20,224.39 344.60,224.46 345.00,224.81 345.40,224.43 345.80,224.64 346.20,224.95 346.60,224.23 347.00,224.19 347.40,224.34 347.80,224.82 348.20,224.68 348.60,224.34 349.00,224.41 349.40,224.26 349.80,224.50 350.20,224.11 350.60,224.67 351.00,224.81 351.40,224.81 351.80,224.55 352.20,224.68 352.60,223.75 353.00,223.91 353.40,224.42 353.80,224.15 354.20,223.73 354.60,224.13 355.00,223.77 355.40,223.90 355.80,223.40 356.20,223.31 356.60,223.56 357.00,223.33 357.40,223.62 357.80,224.22 358.20,223.75 358.60,223.56 359.00,223.68 359.40,223.88 359.80,224.52 360.20,224.21 360.60,224.21 361.00,224.08 361.40,224.91 361.80,224.44 362.20,224.27 362.60,224.15 363.00,224.16 363.40,224.26 363.80,224.73 364.20,224.25 364.60,224.16 365.00,224.56 365.40,224.35 365.80,225.02 366.20,224.23 366.60,224.60 367.00,224.82 367.40,224.49 367.80,225.01 368.20,224.55 368.60,224.34 369.00,224.49 369.40,224.15 369.80,224.50 370.20,224.34 370.60,224.92 371.00,224.86 371.40,224.56 371.80,224.14 372.20,224.34 372.60,224.33 373.00,224.30 373.40,224.32 373.80,224.89 374.20,224.23 374.60,224.15 375.00,224.94 375.40,224.61 375.80,224.99 376.20,224.46 376.60,224.91 377.00,224.68 377.40,224.79 377.80,224.73 378.20,224.47 378.60,224.07 379.00,224.11 379.40,224.61 379.80,224.49 380.20,224.33 380.60,223.56 381.00,223.55 381.40,223.32 381.80,222.77 382.20,222.50 382.60,221.80 383.00,221.49 383.40,221.16 383.80,220.51 384.20,220.93 384.60,220.93 385.00,220.23 385.40,221.24 385.80,221.55 386.20,221.66 386.60,221.51 387.00,222.69 387.40,222.36 387.80,223.42 388.20,223.37 388.60,222.94 389.00,223.02 389.40,223.31 389.80,222.98 390.20,222.72 390.60,222.34 391.00,221.02 391.40,220.04 391.80,220.00 392.20,218.28 392.60,218.15 393.00,216.64 393.40,216.55 393.80,215.99 394.20,215.76 394.60,215.39 395.00,215.85 395.40,215.64 395.80,216.66 396.20,217.10 396.60,218.44 397.00,219.21 397.40,219.80 397.80,220.65 398.20,220.91 398.60,221.51 399.00,222.48 399.40,222.71 399.80,223.22 400.20,222.99 400.60,222.37 401.00,222.12 401.40,221.68 401.80,220.22 402.20,217.92 402.60,216.10 403.00,212.65 403.40,207.56 403.80,202.55 404.20,196.04 404.60,189.30 405.00,181.36 405.40,173.84 405.80,167.27 406.20,162.25 406.60,158.09 407.00,157.41 407.40,159.97 407.80,164.72 408.20,170.62 408.60,177.77 409.00,185.72 409.40,193.02 409.80,199.17 410.20,205.84 410.60,210.17 411.00,214.22 411.40,217.73 411.80,219.59 412.20,221.52 412.60,222.06 413.00,223.44 413.40,223.32 413.80,223.63 414.20,224.17 414.60,224.20 415.00,224.52 415.40,224.95 415.80,224.88 416.20,224.33 416.60,224.69 417.00,224.98 417.40,225.00 417.80,225.29 418.20,225.16 418.60,224.86 419.00,225.09 419.40,225.70 419.80,225.33 420.20,225.77 420.60,226.04 421.00,225.78 421.40,225.89 421.80,225.90 422.20,225.69 422.60,226.29 423.00,225.94 423.40,226.39 423.80,225.90 424.20,226.45 424.60,226.42 425.00,226.30 425.40,226.18 425.80,225.94 426.20,226.54 426.60,226.19 427.00,226.48 427.40,226.02 427.80,225.99 428.20,226.05 428.60,226.64 429.00,226.07 429.40,226.71 429.80,226.21 430.20,226.37 430.60,226.12 431.00,226.31 431.40,225.77 431.80,225.96 432.20,226.32 432.60,225.49 433.00,225.72 433.40,225.16 433.80,224.79 434.20,224.07 434.60,223.41 435.00,223.36 435.40,222.06 435.80,220.56 436.20,219.09 436.60,218.37 437.00,217.96 437.40,219.61 437.80,221.07 438.20,222.50 438.60,223.88 439.00,224.49 439.40,225.24 439.80,224.89 440.20,225.69 440.60,225.95 441.00,226.20 441.40,226.23 441.80,226.54 442.20,226.16 442.60,226.80 443.00,226.39 443.40,226.62 443.80,226.94 444.20,226.80 444.60,226.48 445.00,226.44 445.40,226.55 445.80,226.85 446.20,227.20 446.60,227.13 447.00,226.70 447.40,226.71 447.80,227.10 448.20,226.63 448.60,226.75 449.00,226.41" fill="none" stroke="#208a30" stroke-width="1.25" stroke-dasharray="2.8 1.3 1.1 1.3" stroke-linejoin="round" />
<polyline points="320.60,211.80 321.00,211.91 321.40,211.95 321.80,212.08 322.20,211.89 322.60,212.05 323.00,211.23 323.40,211.61 323.80,212.02 324.20,211.72 324.60,211.91 325.00,211.16 325.40,211.42 325.80,211.15 326.20,211.33 326.60,211.27 327.00,210.66 327.40,210.73 327.80,210.68 328.20,211.14 328.60,210.90 329.00,210.26 329.40,210.76 329.80,210.11 330.20,210.51 330.60,210.06 331.00,209.97 331.40,210.79 331.80,210.26 332.20,210.36 332.60,211.15 333.00,211.16 333.40,210.74 333.80,211.46 334.20,211.18 334.60,211.41 335.00,211.07 335.40,211.81 335.80,211.65 336.20,211.95 336.60,211.93 337.00,211.42 337.40,211.50 337.80,211.35 338.20,211.34 338.60,211.28 339.00,211.50 339.40,211.78 339.80,211.24 340.20,211.85 340.60,211.54 341.00,211.52 341.40,211.98 341.80,211.67 342.20,211.52 342.60,211.67 343.00,211.87 343.40,211.29 343.80,212.12 344.20,211.26 344.60,211.91 345.00,212.00 345.40,211.26 345.80,211.95 346.20,211.57 346.60,211.76 347.00,211.25 347.40,211.28 347.80,211.40 348.20,212.09 348.60,211.41 349.00,211.91 349.40,212.05 349.80,212.05 350.20,211.50 350.60,211.49 351.00,211.62 351.40,211.81 351.80,211.16 352.20,211.69 352.60,211.68 353.00,211.67 353.40,210.86 353.80,211.61 354.20,210.78 354.60,210.94 355.00,211.14 355.40,211.38 355.80,210.84 356.20,211.37 356.60,211.05 357.00,210.87 357.40,210.92 357.80,210.85 358.20,210.83 358.60,210.96 359.00,211.51 359.40,211.85 359.80,211.16 360.20,211.11 360.60,211.99 361.00,211.62 361.40,211.53 361.80,211.40 362.20,211.73 362.60,211.95 363.00,211.63 363.40,211.60 363.80,211.28 364.20,212.05 364.60,211.26 365.00,211.67 365.40,211.98 365.80,211.35 366.20,211.89 366.60,212.08 367.00,211.80 367.40,211.94 367.80,211.32 368.20,211.62 368.60,211.36 369.00,211.99 369.40,211.49 369.80,211.63 370.20,212.12 370.60,211.99 371.00,212.10 371.40,211.63 371.80,211.66 372.20,211.88 372.60,211.65 373.00,211.48 373.40,211.58 373.80,211.35 374.20,211.56 374.60,212.11 375.00,212.08 375.40,211.78 375.80,211.66 376.20,211.52 376.60,211.29 377.00,211.45 377.40,211.90 377.80,211.96 378.20,211.48 378.60,211.83 379.00,211.77 379.40,211.63 379.80,211.50 380.20,211.44 380.60,210.91 381.00,210.99 381.40,210.34 381.80,210.22 382.20,210.15 382.60,209.75 383.00,209.08 383.40,209.39 383.80,208.92 384.20,208.74 384.60,208.20 385.00,208.75 385.40,208.64 385.80,209.25 386.20,209.35 386.60,209.98 387.00,210.13 387.40,210.55 387.80,210.38 388.20,210.82 388.60,211.00 389.00,211.09 389.40,210.58 389.80,210.86 390.20,210.61 390.60,210.09 391.00,209.90 391.40,209.36 391.80,208.38 392.20,207.79 392.60,206.86 393.00,206.91 393.40,206.53 393.80,205.75 394.20,205.73 394.60,205.71 395.00,205.83 395.40,205.59 395.80,206.53 396.20,206.85 396.60,207.49 397.00,207.85 397.40,208.60 397.80,209.27 398.20,209.62 398.60,210.09 399.00,209.78 399.40,210.11 399.80,210.49 400.20,210.70 400.60,210.20 401.00,210.35 401.40,209.82 401.80,208.53 402.20,207.77 402.60,205.91 403.00,203.52 403.40,200.66 403.80,197.15 404.20,192.61 404.60,187.57 405.00,181.94 405.40,176.69 405.80,171.23 406.20,166.80 406.60,163.42 407.00,161.54 407.40,162.67 407.80,164.38 408.20,168.82 408.60,173.79 409.00,179.48 409.40,184.82 409.80,190.78 410.20,195.12 410.60,198.88 411.00,202.71 411.40,204.83 411.80,207.18 412.20,208.40 412.60,209.60 413.00,210.60 413.40,210.92 413.80,210.86 414.20,211.41 414.60,211.39 415.00,211.23 415.40,211.10 415.80,211.57 416.20,211.59 416.60,211.99 417.00,212.04 417.40,211.75 417.80,211.56 418.20,212.08 418.60,211.31 419.00,211.43 419.40,211.88 419.80,211.95 420.20,211.55 420.60,212.02 421.00,212.28 421.40,211.84 421.80,211.91 422.20,211.75 422.60,211.83 423.00,212.46 423.40,211.94 423.80,212.48 424.20,212.45 424.60,212.18 425.00,211.88 425.40,212.54 425.80,212.11 426.20,212.04 426.60,211.96 427.00,212.56 427.40,212.11 427.80,211.92 428.20,212.08 428.60,211.75 429.00,212.18 429.40,212.00 429.80,211.83 430.20,212.24 430.60,212.23 431.00,211.44 431.40,211.84 431.80,211.52 432.20,212.01 432.60,211.73 433.00,211.07 433.40,210.85 433.80,210.43 434.20,210.76 434.60,209.55 435.00,209.04 435.40,207.85 435.80,206.70 436.20,205.34 436.60,204.71 437.00,204.42 437.40,206.12 437.80,207.08 438.20,208.49 438.60,209.24 439.00,209.89 439.40,210.61 439.80,210.92 440.20,211.10 440.60,211.66 441.00,211.68 441.40,211.31 441.80,211.61 442.20,211.88 442.60,212.36 443.00,212.39 443.40,212.13 443.80,211.70 444.20,212.42 444.60,212.13 445.00,212.29 445.40,212.43 445.80,212.39 446.20,212.27 446.60,212.67 447.00,212.21 447.40,212.23 447.80,212.65 448.20,212.07 448.60,212.17 449.00,212.66" fill="none" stroke="#d0208a" stroke-width="1.25" stroke-dasharray="2.8 1.2 1.1 1.2 1.1 1.2" stroke-linejoin="round" />
</g>
</svg>
</body></html>
